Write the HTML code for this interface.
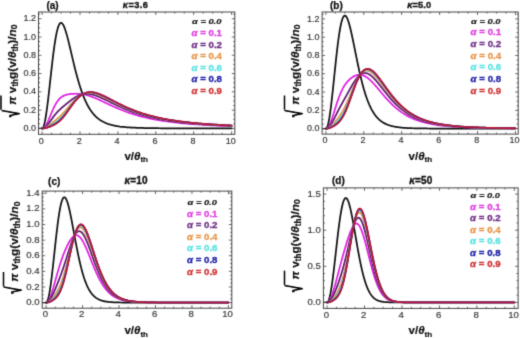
<!DOCTYPE html>
<html><head><meta charset="utf-8"><title>Distribution plots</title>
<style>html,body{margin:0;padding:0;background:#fff;}svg{display:block;}</style>
</head><body>
<svg width="520" height="338" viewBox="0 0 520 338">
<defs><filter id="soft" x="0" y="0" width="520" height="338" filterUnits="userSpaceOnUse" color-interpolation-filters="sRGB"><feConvolveMatrix order="3" kernelMatrix="0.0192 0.1001 0.0192 0.1001 0.5228 0.1001 0.0192 0.1001 0.0192" edgeMode="duplicate" preserveAlpha="true"/></filter></defs>
<g filter="url(#soft)">
<rect width="520" height="338" fill="#fff"/>
<clipPath id="ca"><rect x="38.5" y="12.0" width="196.3" height="122.30000000000001"/></clipPath>
<g clip-path="url(#ca)" fill="none" stroke-linejoin="round" stroke-linecap="round">
<polyline points="42.10,128.40 42.57,128.20 43.05,127.59 43.52,126.58 44.00,125.18 44.47,123.41 44.94,121.27 45.42,118.80 45.89,116.01 46.36,112.93 46.84,109.58 47.31,106.00 47.79,102.22 48.26,98.26 48.73,94.17 49.21,89.98 49.68,85.71 50.15,81.40 50.63,77.09 51.10,72.80 51.58,68.57 52.05,64.42 52.52,60.38 53.00,56.47 53.47,52.72 53.94,49.14 54.42,45.75 54.89,42.57 55.37,39.61 55.84,36.88 56.31,34.39 56.79,32.14 57.26,30.14 57.73,28.39 58.21,26.88 58.68,25.62 59.16,24.61 59.63,23.83 60.10,23.29 60.58,22.97 61.05,22.86 61.52,22.97 62.00,23.26 62.47,23.75 62.95,24.41 63.42,25.23 63.89,26.20 64.37,27.32 64.84,28.57 65.31,29.93 65.79,31.40 66.26,32.97 66.73,34.63 67.21,36.36 67.68,38.15 68.16,40.00 68.63,41.90 69.10,43.84 69.58,45.81 70.05,47.80 70.53,49.81 71.00,51.83 71.47,53.85 71.95,55.87 72.42,57.89 72.89,59.89 73.37,61.88 73.84,63.84 74.31,65.79 74.79,67.70 75.26,69.59 75.74,71.45 76.21,73.27 76.68,75.06 77.16,76.81 77.63,78.52 78.11,80.19 78.58,81.83 79.05,83.42 79.53,84.97 80.00,86.48 80.47,87.95 80.95,89.38 81.42,90.76 81.90,92.11 82.37,93.41 82.84,94.68 83.32,95.90 83.79,97.08 84.26,98.23 84.74,99.34 85.21,100.41 85.69,101.45 86.16,102.45 86.63,103.41 87.11,104.35 87.58,105.25 88.05,106.11 88.53,106.95 89.00,107.75 89.47,108.53 89.95,109.28 90.42,110.00 90.90,110.70 91.37,111.36 91.84,112.01 92.32,112.63 92.79,113.22 93.27,113.80 93.74,114.35 94.21,114.88 94.69,115.39 95.16,115.88 95.63,116.35 96.11,116.80 96.58,117.24 97.06,117.66 97.53,118.06 98.00,118.45 98.48,118.82 98.95,119.18 99.42,119.53 99.90,119.86 100.37,120.18 100.84,120.48 101.32,120.78 101.79,121.06 102.27,121.33 102.74,121.59 103.21,121.84 103.69,122.08 104.16,122.31 104.64,122.54 105.11,122.75 105.58,122.96 106.06,123.15 106.53,123.34 107.00,123.53 107.48,123.70 107.95,123.87 108.43,124.03 108.90,124.19 109.37,124.34 109.85,124.49 110.32,124.62 110.79,124.76 111.27,124.89 111.74,125.01 112.22,125.13 112.69,125.24 113.16,125.35 113.64,125.46 114.11,125.56 114.58,125.66 115.06,125.76 115.53,125.85 116.00,125.93 116.48,126.02 116.95,126.10 117.43,126.18 117.90,126.25 119.79,126.53 121.69,126.76 123.59,126.97 125.48,127.15 127.38,127.30 129.27,127.43 131.16,127.55 133.06,127.65 134.96,127.73 136.85,127.81 138.75,127.88 140.64,127.94 142.53,127.99 144.43,128.03 146.32,128.07 148.22,128.11 150.12,128.14 152.01,128.16 153.91,128.19 155.80,128.21 157.69,128.23 159.59,128.25 161.49,128.26 163.38,128.27 165.28,128.29 167.17,128.30 169.06,128.31 170.96,128.32 172.85,128.32 174.75,128.33 176.64,128.34 178.54,128.34 180.44,128.35 182.33,128.35 184.22,128.36 186.12,128.36 188.01,128.36 189.91,128.37 191.81,128.37 193.70,128.37 195.60,128.37 197.49,128.38 199.38,128.38 201.28,128.38 203.17,128.38 205.07,128.38 206.96,128.38 208.86,128.38 210.75,128.39 212.65,128.39 214.55,128.39 216.44,128.39 218.34,128.39 220.23,128.39 222.12,128.39 224.02,128.39 225.91,128.39 227.81,128.39 229.70,128.39 231.60,128.39" stroke="#111111" stroke-width="1.75"/>
<polyline points="42.10,128.40 42.57,128.35 43.05,128.19 43.52,127.93 44.00,127.57 44.47,127.11 44.94,126.56 45.42,125.92 45.89,125.19 46.36,124.39 46.84,123.53 47.31,122.60 47.79,121.62 48.26,120.59 48.73,119.52 49.21,118.43 49.68,117.31 50.15,116.18 50.63,115.05 51.10,113.91 51.58,112.78 52.05,111.67 52.52,110.58 53.00,109.51 53.47,108.47 53.94,107.46 54.42,106.49 54.89,105.56 55.37,104.67 55.84,103.82 56.31,103.02 56.79,102.26 57.26,101.55 57.73,100.88 58.21,100.26 58.68,99.68 59.16,99.14 59.63,98.64 60.10,98.18 60.58,97.76 61.05,97.37 61.52,97.01 62.00,96.69 62.47,96.39 62.95,96.12 63.42,95.88 63.89,95.65 64.37,95.45 64.84,95.27 65.31,95.10 65.79,94.95 66.26,94.82 66.73,94.69 67.21,94.58 67.68,94.48 68.16,94.39 68.63,94.31 69.10,94.23 69.58,94.16 70.05,94.10 70.53,94.04 71.00,93.99 71.47,93.95 71.95,93.91 72.42,93.87 72.89,93.84 73.37,93.81 73.84,93.79 74.31,93.77 74.79,93.76 75.26,93.75 75.74,93.74 76.21,93.74 76.68,93.75 77.16,93.76 77.63,93.77 78.11,93.79 78.58,93.82 79.05,93.85 79.53,93.88 80.00,93.92 80.47,93.97 80.95,94.02 81.42,94.08 81.90,94.14 82.37,94.21 82.84,94.28 83.32,94.37 83.79,94.45 84.26,94.54 84.74,94.64 85.21,94.74 85.69,94.85 86.16,94.97 86.63,95.09 87.11,95.21 87.58,95.34 88.05,95.48 88.53,95.62 89.00,95.77 89.47,95.92 89.95,96.07 90.42,96.23 90.90,96.40 91.37,96.56 91.84,96.74 92.32,96.91 92.79,97.09 93.27,97.28 93.74,97.46 94.21,97.66 94.69,97.85 95.16,98.05 95.63,98.25 96.11,98.45 96.58,98.65 97.06,98.86 97.53,99.07 98.00,99.28 98.48,99.50 98.95,99.71 99.42,99.93 99.90,100.15 100.37,100.37 100.84,100.59 101.32,100.81 101.79,101.03 102.27,101.26 102.74,101.48 103.21,101.71 103.69,101.93 104.16,102.16 104.64,102.38 105.11,102.61 105.58,102.84 106.06,103.06 106.53,103.29 107.00,103.51 107.48,103.74 107.95,103.96 108.43,104.19 108.90,104.41 109.37,104.64 109.85,104.86 110.32,105.08 110.79,105.30 111.27,105.52 111.74,105.74 112.22,105.96 112.69,106.18 113.16,106.39 113.64,106.61 114.11,106.82 114.58,107.03 115.06,107.24 115.53,107.45 116.00,107.66 116.48,107.87 116.95,108.07 117.43,108.28 117.90,108.48 119.79,109.28 121.69,110.05 123.59,110.79 125.48,111.51 127.38,112.20 129.27,112.86 131.16,113.50 133.06,114.11 134.96,114.70 136.85,115.26 138.75,115.80 140.64,116.31 142.53,116.80 144.43,117.27 146.32,117.72 148.22,118.15 150.12,118.55 152.01,118.94 153.91,119.32 155.80,119.67 157.69,120.01 159.59,120.33 161.49,120.64 163.38,120.94 165.28,121.22 167.17,121.49 169.06,121.75 170.96,121.99 172.85,122.23 174.75,122.45 176.64,122.67 178.54,122.87 180.44,123.07 182.33,123.26 184.22,123.44 186.12,123.61 188.01,123.77 189.91,123.93 191.81,124.08 193.70,124.23 195.60,124.36 197.49,124.50 199.38,124.63 201.28,124.75 203.17,124.87 205.07,124.98 206.96,125.09 208.86,125.19 210.75,125.29 212.65,125.39 214.55,125.48 216.44,125.57 218.34,125.65 220.23,125.74 222.12,125.81 224.02,125.89 225.91,125.96 227.81,126.03 229.70,126.10 231.60,126.17" stroke="#e020e0" stroke-width="1.75"/>
<polyline points="42.10,128.40 42.57,128.37 43.05,128.28 43.52,128.13 44.00,127.92 44.47,127.66 44.94,127.34 45.42,126.97 45.89,126.56 46.36,126.10 46.84,125.60 47.31,125.07 47.79,124.50 48.26,123.91 48.73,123.29 49.21,122.66 49.68,122.01 50.15,121.35 50.63,120.69 51.10,120.02 51.58,119.36 52.05,118.69 52.52,118.04 53.00,117.39 53.47,116.75 53.94,116.13 54.42,115.52 54.89,114.92 55.37,114.34 55.84,113.77 56.31,113.22 56.79,112.69 57.26,112.16 57.73,111.66 58.21,111.16 58.68,110.68 59.16,110.22 59.63,109.76 60.10,109.31 60.58,108.87 61.05,108.44 61.52,108.02 62.00,107.60 62.47,107.19 62.95,106.78 63.42,106.38 63.89,105.98 64.37,105.58 64.84,105.18 65.31,104.79 65.79,104.40 66.26,104.01 66.73,103.62 67.21,103.24 67.68,102.85 68.16,102.47 68.63,102.10 69.10,101.72 69.58,101.35 70.05,100.98 70.53,100.62 71.00,100.26 71.47,99.91 71.95,99.56 72.42,99.22 72.89,98.89 73.37,98.56 73.84,98.24 74.31,97.93 74.79,97.63 75.26,97.34 75.74,97.06 76.21,96.79 76.68,96.53 77.16,96.28 77.63,96.04 78.11,95.81 78.58,95.60 79.05,95.40 79.53,95.21 80.00,95.03 80.47,94.86 80.95,94.71 81.42,94.57 81.90,94.44 82.37,94.33 82.84,94.23 83.32,94.14 83.79,94.06 84.26,94.00 84.74,93.94 85.21,93.90 85.69,93.87 86.16,93.86 86.63,93.85 87.11,93.86 87.58,93.87 88.05,93.90 88.53,93.94 89.00,93.98 89.47,94.04 89.95,94.11 90.42,94.18 90.90,94.27 91.37,94.36 91.84,94.47 92.32,94.58 92.79,94.70 93.27,94.82 93.74,94.96 94.21,95.10 94.69,95.24 95.16,95.40 95.63,95.55 96.11,95.72 96.58,95.89 97.06,96.07 97.53,96.25 98.00,96.43 98.48,96.62 98.95,96.82 99.42,97.01 99.90,97.22 100.37,97.42 100.84,97.63 101.32,97.84 101.79,98.06 102.27,98.27 102.74,98.49 103.21,98.71 103.69,98.94 104.16,99.16 104.64,99.39 105.11,99.62 105.58,99.84 106.06,100.07 106.53,100.31 107.00,100.54 107.48,100.77 107.95,101.00 108.43,101.24 108.90,101.47 109.37,101.71 109.85,101.94 110.32,102.18 110.79,102.41 111.27,102.64 111.74,102.88 112.22,103.11 112.69,103.34 113.16,103.57 113.64,103.80 114.11,104.03 114.58,104.26 115.06,104.49 115.53,104.72 116.00,104.95 116.48,105.17 116.95,105.40 117.43,105.62 117.90,105.84 119.79,106.71 121.69,107.56 123.59,108.39 125.48,109.18 127.38,109.96 129.27,110.70 131.16,111.41 133.06,112.10 134.96,112.76 136.85,113.39 138.75,114.00 140.64,114.58 142.53,115.14 144.43,115.67 146.32,116.18 148.22,116.66 150.12,117.13 152.01,117.57 153.91,118.00 155.80,118.40 157.69,118.79 159.59,119.16 161.49,119.51 163.38,119.85 165.28,120.17 167.17,120.48 169.06,120.77 170.96,121.05 172.85,121.32 174.75,121.58 176.64,121.82 178.54,122.06 180.44,122.28 182.33,122.50 184.22,122.70 186.12,122.90 188.01,123.09 189.91,123.27 191.81,123.44 193.70,123.61 195.60,123.77 197.49,123.92 199.38,124.07 201.28,124.21 203.17,124.34 205.07,124.47 206.96,124.60 208.86,124.72 210.75,124.83 212.65,124.94 214.55,125.05 216.44,125.15 218.34,125.25 220.23,125.34 222.12,125.43 224.02,125.52 225.91,125.60 227.81,125.68 229.70,125.76 231.60,125.84" stroke="#5e1a72" stroke-width="1.75"/>
<polyline points="42.10,128.40 42.57,128.38 43.05,128.33 43.52,128.25 44.00,128.14 44.47,128.00 44.94,127.83 45.42,127.63 45.89,127.40 46.36,127.16 46.84,126.89 47.31,126.60 47.79,126.29 48.26,125.97 48.73,125.63 49.21,125.28 49.68,124.92 50.15,124.56 50.63,124.19 51.10,123.81 51.58,123.43 52.05,123.05 52.52,122.67 53.00,122.28 53.47,121.89 53.94,121.51 54.42,121.12 54.89,120.73 55.37,120.34 55.84,119.95 56.31,119.55 56.79,119.15 57.26,118.75 57.73,118.34 58.21,117.93 58.68,117.51 59.16,117.09 59.63,116.66 60.10,116.22 60.58,115.77 61.05,115.31 61.52,114.85 62.00,114.37 62.47,113.89 62.95,113.39 63.42,112.89 63.89,112.38 64.37,111.86 64.84,111.33 65.31,110.80 65.79,110.26 66.26,109.71 66.73,109.16 67.21,108.61 67.68,108.05 68.16,107.49 68.63,106.93 69.10,106.37 69.58,105.81 70.05,105.25 70.53,104.70 71.00,104.15 71.47,103.61 71.95,103.07 72.42,102.54 72.89,102.02 73.37,101.50 73.84,101.00 74.31,100.51 74.79,100.03 75.26,99.57 75.74,99.11 76.21,98.68 76.68,98.25 77.16,97.84 77.63,97.45 78.11,97.07 78.58,96.70 79.05,96.36 79.53,96.03 80.00,95.72 80.47,95.42 80.95,95.14 81.42,94.88 81.90,94.63 82.37,94.40 82.84,94.19 83.32,94.00 83.79,93.82 84.26,93.66 84.74,93.51 85.21,93.38 85.69,93.26 86.16,93.17 86.63,93.08 87.11,93.01 87.58,92.96 88.05,92.92 88.53,92.89 89.00,92.88 89.47,92.88 89.95,92.89 90.42,92.91 90.90,92.95 91.37,93.00 91.84,93.06 92.32,93.13 92.79,93.21 93.27,93.30 93.74,93.40 94.21,93.51 94.69,93.62 95.16,93.75 95.63,93.89 96.11,94.03 96.58,94.18 97.06,94.33 97.53,94.50 98.00,94.66 98.48,94.84 98.95,95.02 99.42,95.21 99.90,95.40 100.37,95.59 100.84,95.79 101.32,96.00 101.79,96.21 102.27,96.42 102.74,96.64 103.21,96.86 103.69,97.08 104.16,97.30 104.64,97.53 105.11,97.76 105.58,97.99 106.06,98.22 106.53,98.46 107.00,98.69 107.48,98.93 107.95,99.17 108.43,99.41 108.90,99.65 109.37,99.89 109.85,100.13 110.32,100.37 110.79,100.62 111.27,100.86 111.74,101.10 112.22,101.34 112.69,101.58 113.16,101.82 113.64,102.07 114.11,102.31 114.58,102.55 115.06,102.79 115.53,103.02 116.00,103.26 116.48,103.50 116.95,103.73 117.43,103.97 117.90,104.20 119.79,105.12 121.69,106.02 123.59,106.89 125.48,107.74 127.38,108.56 129.27,109.35 131.16,110.12 133.06,110.85 134.96,111.56 136.85,112.24 138.75,112.89 140.64,113.51 142.53,114.11 144.43,114.68 146.32,115.22 148.22,115.75 150.12,116.25 152.01,116.72 153.91,117.18 155.80,117.61 157.69,118.03 159.59,118.43 161.49,118.81 163.38,119.17 165.28,119.52 167.17,119.85 169.06,120.17 170.96,120.47 172.85,120.76 174.75,121.04 176.64,121.30 178.54,121.55 180.44,121.80 182.33,122.03 184.22,122.25 186.12,122.46 188.01,122.67 189.91,122.86 191.81,123.05 193.70,123.23 195.60,123.40 197.49,123.56 199.38,123.72 201.28,123.87 203.17,124.02 205.07,124.16 206.96,124.29 208.86,124.42 210.75,124.55 212.65,124.66 214.55,124.78 216.44,124.89 218.34,124.99 220.23,125.10 222.12,125.19 224.02,125.29 225.91,125.38 227.81,125.47 229.70,125.55 231.60,125.63" stroke="#e8903c" stroke-width="1.75"/>
<polyline points="42.10,128.40 42.57,128.39 43.05,128.36 43.52,128.30 44.00,128.22 44.47,128.13 44.94,128.01 45.42,127.87 45.89,127.72 46.36,127.55 46.84,127.36 47.31,127.16 47.79,126.95 48.26,126.73 48.73,126.49 49.21,126.25 49.68,126.00 50.15,125.75 50.63,125.48 51.10,125.22 51.58,124.94 52.05,124.66 52.52,124.38 53.00,124.09 53.47,123.80 53.94,123.50 54.42,123.19 54.89,122.88 55.37,122.56 55.84,122.23 56.31,121.89 56.79,121.55 57.26,121.19 57.73,120.82 58.21,120.44 58.68,120.04 59.16,119.63 59.63,119.21 60.10,118.77 60.58,118.32 61.05,117.86 61.52,117.37 62.00,116.88 62.47,116.37 62.95,115.84 63.42,115.30 63.89,114.75 64.37,114.19 64.84,113.61 65.31,113.02 65.79,112.43 66.26,111.82 66.73,111.21 67.21,110.59 67.68,109.97 68.16,109.35 68.63,108.72 69.10,108.09 69.58,107.46 70.05,106.83 70.53,106.21 71.00,105.59 71.47,104.97 71.95,104.37 72.42,103.77 72.89,103.18 73.37,102.59 73.84,102.02 74.31,101.47 74.79,100.92 75.26,100.39 75.74,99.88 76.21,99.37 76.68,98.89 77.16,98.42 77.63,97.97 78.11,97.53 78.58,97.11 79.05,96.71 79.53,96.33 80.00,95.97 80.47,95.62 80.95,95.30 81.42,94.99 81.90,94.70 82.37,94.43 82.84,94.18 83.32,93.94 83.79,93.73 84.26,93.53 84.74,93.35 85.21,93.19 85.69,93.04 86.16,92.91 86.63,92.80 87.11,92.70 87.58,92.62 88.05,92.55 88.53,92.50 89.00,92.47 89.47,92.45 89.95,92.44 90.42,92.44 90.90,92.46 91.37,92.49 91.84,92.54 92.32,92.59 92.79,92.66 93.27,92.73 93.74,92.82 94.21,92.92 94.69,93.03 95.16,93.14 95.63,93.27 96.11,93.40 96.58,93.54 97.06,93.69 97.53,93.85 98.00,94.01 98.48,94.18 98.95,94.36 99.42,94.54 99.90,94.73 100.37,94.92 100.84,95.12 101.32,95.32 101.79,95.52 102.27,95.74 102.74,95.95 103.21,96.17 103.69,96.39 104.16,96.61 104.64,96.84 105.11,97.07 105.58,97.30 106.06,97.54 106.53,97.77 107.00,98.01 107.48,98.25 107.95,98.49 108.43,98.73 108.90,98.97 109.37,99.22 109.85,99.46 110.32,99.71 110.79,99.95 111.27,100.20 111.74,100.44 112.22,100.69 112.69,100.93 113.16,101.18 113.64,101.42 114.11,101.67 114.58,101.91 115.06,102.15 115.53,102.40 116.00,102.64 116.48,102.88 116.95,103.12 117.43,103.36 117.90,103.59 119.79,104.53 121.69,105.45 123.59,106.34 125.48,107.21 127.38,108.05 129.27,108.86 131.16,109.64 133.06,110.39 134.96,111.11 136.85,111.81 138.75,112.47 140.64,113.11 142.53,113.72 144.43,114.31 146.32,114.87 148.22,115.41 150.12,115.92 152.01,116.41 153.91,116.88 155.80,117.32 157.69,117.75 159.59,118.16 161.49,118.55 163.38,118.92 165.28,119.28 167.17,119.62 169.06,119.94 170.96,120.25 172.85,120.55 174.75,120.84 176.64,121.11 178.54,121.37 180.44,121.62 182.33,121.85 184.22,122.08 186.12,122.30 188.01,122.51 189.91,122.71 191.81,122.90 193.70,123.09 195.60,123.26 197.49,123.43 199.38,123.59 201.28,123.75 203.17,123.90 205.07,124.04 206.96,124.18 208.86,124.31 210.75,124.44 212.65,124.56 214.55,124.68 216.44,124.79 218.34,124.90 220.23,125.01 222.12,125.11 224.02,125.20 225.91,125.30 227.81,125.39 229.70,125.47 231.60,125.56" stroke="#40e0e0" stroke-width="1.75"/>
<polyline points="42.10,128.40 42.57,128.39 43.05,128.37 43.52,128.32 44.00,128.27 44.47,128.19 44.94,128.10 45.42,128.00 45.89,127.88 46.36,127.75 46.84,127.61 47.31,127.46 47.79,127.30 48.26,127.12 48.73,126.95 49.21,126.76 49.68,126.56 50.15,126.36 50.63,126.16 51.10,125.95 51.58,125.73 52.05,125.50 52.52,125.27 53.00,125.03 53.47,124.79 53.94,124.53 54.42,124.27 54.89,124.00 55.37,123.72 55.84,123.42 56.31,123.11 56.79,122.79 57.26,122.46 57.73,122.11 58.21,121.74 58.68,121.36 59.16,120.96 59.63,120.54 60.10,120.10 60.58,119.65 61.05,119.18 61.52,118.69 62.00,118.18 62.47,117.66 62.95,117.12 63.42,116.56 63.89,115.99 64.37,115.40 64.84,114.80 65.31,114.18 65.79,113.56 66.26,112.92 66.73,112.28 67.21,111.63 67.68,110.97 68.16,110.31 68.63,109.65 69.10,108.98 69.58,108.32 70.05,107.65 70.53,106.99 71.00,106.34 71.47,105.69 71.95,105.04 72.42,104.41 72.89,103.78 73.37,103.16 73.84,102.56 74.31,101.96 74.79,101.39 75.26,100.82 75.74,100.27 76.21,99.74 76.68,99.22 77.16,98.72 77.63,98.24 78.11,97.77 78.58,97.33 79.05,96.90 79.53,96.49 80.00,96.10 80.47,95.73 80.95,95.38 81.42,95.05 81.90,94.74 82.37,94.44 82.84,94.17 83.32,93.92 83.79,93.68 84.26,93.46 84.74,93.27 85.21,93.09 85.69,92.92 86.16,92.78 86.63,92.65 87.11,92.54 87.58,92.44 88.05,92.37 88.53,92.30 89.00,92.26 89.47,92.22 89.95,92.20 90.42,92.20 90.90,92.21 91.37,92.23 91.84,92.27 92.32,92.31 92.79,92.37 93.27,92.44 93.74,92.52 94.21,92.61 94.69,92.71 95.16,92.83 95.63,92.95 96.11,93.07 96.58,93.21 97.06,93.36 97.53,93.51 98.00,93.67 98.48,93.84 98.95,94.01 99.42,94.19 99.90,94.38 100.37,94.57 100.84,94.76 101.32,94.96 101.79,95.17 102.27,95.38 102.74,95.59 103.21,95.81 103.69,96.03 104.16,96.26 104.64,96.48 105.11,96.71 105.58,96.94 106.06,97.18 106.53,97.42 107.00,97.65 107.48,97.89 107.95,98.14 108.43,98.38 108.90,98.62 109.37,98.87 109.85,99.11 110.32,99.36 110.79,99.61 111.27,99.85 111.74,100.10 112.22,100.35 112.69,100.59 113.16,100.84 113.64,101.09 114.11,101.33 114.58,101.58 115.06,101.82 115.53,102.07 116.00,102.31 116.48,102.56 116.95,102.80 117.43,103.04 117.90,103.28 119.79,104.23 121.69,105.15 123.59,106.05 125.48,106.93 127.38,107.78 129.27,108.60 131.16,109.39 133.06,110.15 134.96,110.88 136.85,111.59 138.75,112.26 140.64,112.91 142.53,113.53 144.43,114.12 146.32,114.69 148.22,115.23 150.12,115.75 152.01,116.24 153.91,116.72 155.80,117.17 157.69,117.60 159.59,118.02 161.49,118.41 163.38,118.79 165.28,119.15 167.17,119.50 169.06,119.83 170.96,120.14 172.85,120.44 174.75,120.73 176.64,121.01 178.54,121.27 180.44,121.52 182.33,121.76 184.22,122.00 186.12,122.22 188.01,122.43 189.91,122.63 191.81,122.83 193.70,123.01 195.60,123.19 197.49,123.36 199.38,123.53 201.28,123.68 203.17,123.84 205.07,123.98 206.96,124.12 208.86,124.26 210.75,124.38 212.65,124.51 214.55,124.63 216.44,124.74 218.34,124.85 220.23,124.96 222.12,125.06 224.02,125.16 225.91,125.25 227.81,125.34 229.70,125.43 231.60,125.52" stroke="#1c1ca8" stroke-width="1.75"/>
<polyline points="42.10,128.40 42.57,128.39 43.05,128.37 43.52,128.33 44.00,128.28 44.47,128.21 44.94,128.13 45.42,128.04 45.89,127.94 46.36,127.82 46.84,127.69 47.31,127.56 47.79,127.41 48.26,127.26 48.73,127.10 49.21,126.93 49.68,126.76 50.15,126.57 50.63,126.39 51.10,126.19 51.58,125.99 52.05,125.79 52.52,125.57 53.00,125.35 53.47,125.12 53.94,124.89 54.42,124.64 54.89,124.38 55.37,124.11 55.84,123.82 56.31,123.53 56.79,123.22 57.26,122.89 57.73,122.54 58.21,122.18 58.68,121.80 59.16,121.41 59.63,120.99 60.10,120.56 60.58,120.10 61.05,119.63 61.52,119.14 62.00,118.63 62.47,118.10 62.95,117.55 63.42,116.98 63.89,116.40 64.37,115.81 64.84,115.20 65.31,114.58 65.79,113.94 66.26,113.30 66.73,112.64 67.21,111.98 67.68,111.31 68.16,110.64 68.63,109.97 69.10,109.29 69.58,108.61 70.05,107.93 70.53,107.26 71.00,106.59 71.47,105.93 71.95,105.27 72.42,104.62 72.89,103.98 73.37,103.35 73.84,102.74 74.31,102.13 74.79,101.54 75.26,100.97 75.74,100.41 76.21,99.86 76.68,99.33 77.16,98.82 77.63,98.33 78.11,97.86 78.58,97.40 79.05,96.96 79.53,96.54 80.00,96.15 80.47,95.77 80.95,95.41 81.42,95.07 81.90,94.75 82.37,94.45 82.84,94.17 83.32,93.91 83.79,93.66 84.26,93.44 84.74,93.24 85.21,93.05 85.69,92.88 86.16,92.73 86.63,92.60 87.11,92.48 87.58,92.38 88.05,92.30 88.53,92.23 89.00,92.18 89.47,92.15 89.95,92.12 90.42,92.12 90.90,92.12 91.37,92.14 91.84,92.17 92.32,92.22 92.79,92.27 93.27,92.34 93.74,92.42 94.21,92.51 94.69,92.61 95.16,92.72 95.63,92.84 96.11,92.96 96.58,93.10 97.06,93.24 97.53,93.40 98.00,93.55 98.48,93.72 98.95,93.89 99.42,94.07 99.90,94.26 100.37,94.45 100.84,94.64 101.32,94.84 101.79,95.05 102.27,95.26 102.74,95.47 103.21,95.69 103.69,95.91 104.16,96.13 104.64,96.36 105.11,96.59 105.58,96.82 106.06,97.06 106.53,97.29 107.00,97.53 107.48,97.77 107.95,98.02 108.43,98.26 108.90,98.50 109.37,98.75 109.85,98.99 110.32,99.24 110.79,99.49 111.27,99.74 111.74,99.98 112.22,100.23 112.69,100.48 113.16,100.73 113.64,100.97 114.11,101.22 114.58,101.47 115.06,101.71 115.53,101.96 116.00,102.20 116.48,102.45 116.95,102.69 117.43,102.93 117.90,103.17 119.79,104.12 121.69,105.05 123.59,105.96 125.48,106.84 127.38,107.69 129.27,108.51 131.16,109.30 133.06,110.07 134.96,110.80 136.85,111.51 138.75,112.19 140.64,112.84 142.53,113.46 144.43,114.05 146.32,114.62 148.22,115.17 150.12,115.69 152.01,116.19 153.91,116.66 155.80,117.12 157.69,117.55 159.59,117.97 161.49,118.37 163.38,118.75 165.28,119.11 167.17,119.46 169.06,119.79 170.96,120.10 172.85,120.41 174.75,120.70 176.64,120.97 178.54,121.24 180.44,121.49 182.33,121.73 184.22,121.97 186.12,122.19 188.01,122.40 189.91,122.60 191.81,122.80 193.70,122.99 195.60,123.17 197.49,123.34 199.38,123.50 201.28,123.66 203.17,123.82 205.07,123.96 206.96,124.10 208.86,124.24 210.75,124.37 212.65,124.49 214.55,124.61 216.44,124.73 218.34,124.84 220.23,124.94 222.12,125.04 224.02,125.14 225.91,125.24 227.81,125.33 229.70,125.42 231.60,125.50" stroke="#bc1636" stroke-width="1.75"/>
<line x1="38.5" y1="128.40" x2="42.10" y2="128.40" stroke="#222" stroke-width="1.2"/>
</g>
<rect x="38.5" y="12.0" width="196.3" height="122.30000000000001" fill="none" stroke="#444" stroke-width="1"/>
<path d="M42.10,134.3v-3.0M42.10,12.0v3.0M51.58,134.3v-1.6M51.58,12.0v1.6M61.05,134.3v-1.6M61.05,12.0v1.6M70.53,134.3v-1.6M70.53,12.0v1.6M80.00,134.3v-3.0M80.00,12.0v3.0M89.47,134.3v-1.6M89.47,12.0v1.6M98.95,134.3v-1.6M98.95,12.0v1.6M108.43,134.3v-1.6M108.43,12.0v1.6M117.90,134.3v-3.0M117.90,12.0v3.0M127.38,134.3v-1.6M127.38,12.0v1.6M136.85,134.3v-1.6M136.85,12.0v1.6M146.32,134.3v-1.6M146.32,12.0v1.6M155.80,134.3v-3.0M155.80,12.0v3.0M165.28,134.3v-1.6M165.28,12.0v1.6M174.75,134.3v-1.6M174.75,12.0v1.6M184.22,134.3v-1.6M184.22,12.0v1.6M193.70,134.3v-3.0M193.70,12.0v3.0M203.17,134.3v-1.6M203.17,12.0v1.6M212.65,134.3v-1.6M212.65,12.0v1.6M222.12,134.3v-1.6M222.12,12.0v1.6M231.60,134.3v-3.0M231.60,12.0v3.0M38.5,128.40h3.0M234.8,128.40h-3.0M38.5,123.83h1.6M234.8,123.83h-1.6M38.5,119.26h1.6M234.8,119.26h-1.6M38.5,114.69h1.6M234.8,114.69h-1.6M38.5,110.12h3.0M234.8,110.12h-3.0M38.5,105.55h1.6M234.8,105.55h-1.6M38.5,100.98h1.6M234.8,100.98h-1.6M38.5,96.41h1.6M234.8,96.41h-1.6M38.5,91.84h3.0M234.8,91.84h-3.0M38.5,87.27h1.6M234.8,87.27h-1.6M38.5,82.70h1.6M234.8,82.70h-1.6M38.5,78.13h1.6M234.8,78.13h-1.6M38.5,73.56h3.0M234.8,73.56h-3.0M38.5,68.99h1.6M234.8,68.99h-1.6M38.5,64.42h1.6M234.8,64.42h-1.6M38.5,59.85h1.6M234.8,59.85h-1.6M38.5,55.28h3.0M234.8,55.28h-3.0M38.5,50.71h1.6M234.8,50.71h-1.6M38.5,46.14h1.6M234.8,46.14h-1.6M38.5,41.57h1.6M234.8,41.57h-1.6M38.5,37.00h3.0M234.8,37.00h-3.0M38.5,32.43h1.6M234.8,32.43h-1.6M38.5,27.86h1.6M234.8,27.86h-1.6M38.5,23.29h1.6M234.8,23.29h-1.6M38.5,18.72h3.0M234.8,18.72h-3.0M38.5,14.15h1.6M234.8,14.15h-1.6" stroke="#444" stroke-width="0.8" fill="none"/>
<g font-family="'Liberation Sans', Arial, sans-serif" font-size="9.0" fill="#3a3a3a" stroke="#3a3a3a" stroke-width="0.2"><text x="41.30" y="143.50" text-anchor="middle">0</text><text x="79.20" y="143.50" text-anchor="middle">2</text><text x="117.10" y="143.50" text-anchor="middle">4</text><text x="155.00" y="143.50" text-anchor="middle">6</text><text x="192.90" y="143.50" text-anchor="middle">8</text><text x="230.80" y="143.50" text-anchor="middle">10</text><text x="35.90" y="131.00" text-anchor="end">0.0</text><text x="35.90" y="112.72" text-anchor="end">0.2</text><text x="35.90" y="94.44" text-anchor="end">0.4</text><text x="35.90" y="76.16" text-anchor="end">0.6</text><text x="35.90" y="57.88" text-anchor="end">0.8</text><text x="35.90" y="39.60" text-anchor="end">1.0</text><text x="35.90" y="21.32" text-anchor="end">1.2</text></g>
<text x="46.4" y="8.9" font-family="'Liberation Sans', Arial, sans-serif" font-weight="bold" font-size="10" fill="#111" stroke="#111" stroke-width="0.25">(a)</text>
<text x="122.8" y="8.1" font-family="'Liberation Sans', Arial, sans-serif" font-weight="bold" font-size="9.2" fill="#111" stroke="#111" stroke-width="0.35" letter-spacing="0.4"><tspan font-style="italic">κ</tspan>=3.6</text>
<text x="192.0" y="24.40" font-family="'Liberation Sans', Arial, sans-serif" font-weight="bold" font-style="italic" font-size="7.9" fill="#151515" stroke="#151515" stroke-width="0.2" textLength="29.4" lengthAdjust="spacingAndGlyphs">α = 0.0</text>
<text x="191.5" y="36.00" font-family="'Liberation Sans', Arial, sans-serif" font-weight="bold" font-size="8.8" fill="#e040e0" stroke="#e040e0" stroke-width="0.3" textLength="30.5" lengthAdjust="spacingAndGlyphs"><tspan font-style="italic">α</tspan> = 0.1</text>
<text x="191.5" y="47.60" font-family="'Liberation Sans', Arial, sans-serif" font-weight="bold" font-size="8.8" fill="#703088" stroke="#703088" stroke-width="0.3" textLength="30.5" lengthAdjust="spacingAndGlyphs"><tspan font-style="italic">α</tspan> = 0.2</text>
<text x="191.5" y="59.20" font-family="'Liberation Sans', Arial, sans-serif" font-weight="bold" font-size="8.8" fill="#e8964a" stroke="#e8964a" stroke-width="0.3" textLength="30.5" lengthAdjust="spacingAndGlyphs"><tspan font-style="italic">α</tspan> = 0.4</text>
<text x="191.5" y="70.80" font-family="'Liberation Sans', Arial, sans-serif" font-weight="bold" font-size="8.8" fill="#5ae2e2" stroke="#5ae2e2" stroke-width="0.3" textLength="30.5" lengthAdjust="spacingAndGlyphs"><tspan font-style="italic">α</tspan> = 0.6</text>
<text x="191.5" y="82.40" font-family="'Liberation Sans', Arial, sans-serif" font-weight="bold" font-size="8.8" fill="#2424aa" stroke="#2424aa" stroke-width="0.3" textLength="30.5" lengthAdjust="spacingAndGlyphs"><tspan font-style="italic">α</tspan> = 0.8</text>
<text x="191.5" y="94.00" font-family="'Liberation Sans', Arial, sans-serif" font-weight="bold" font-size="8.8" fill="#d03434" stroke="#d03434" stroke-width="0.3" textLength="30.5" lengthAdjust="spacingAndGlyphs"><tspan font-style="italic">α</tspan> = 0.9</text>
<text x="124.4" y="159.8" font-family="'Liberation Sans', Arial, sans-serif" font-weight="bold" font-size="11.5" fill="#111" stroke="#111" stroke-width="0.2">v/<tspan font-style="italic">θ</tspan><tspan font-size="8" dy="2.6">th</tspan></text>
<g transform="translate(15.7,104.8) rotate(-90)"><text x="0" y="0" font-family="'Liberation Sans', Arial, sans-serif" font-weight="bold" font-size="11.75" fill="#111" stroke="#111" stroke-width="0.2"><tspan font-style="italic">π</tspan> v<tspan font-size="8.2" dy="2.0">th</tspan><tspan dy="-2.0">g(v/</tspan><tspan font-style="italic">θ</tspan><tspan font-size="8.2" dy="2.0">th</tspan><tspan dy="-2.0">)/</tspan><tspan font-style="italic">n</tspan><tspan font-size="8.6" dy="1.6">0</tspan></text></g>
<g transform="translate(18.6,113.6) rotate(-90) scale(0.65,1.08)"><text x="-5.6000000000000005" y="0" font-family="'Liberation Sans', Arial, sans-serif" font-size="20" fill="#000" stroke="#000" stroke-width="1.1">√</text></g>
<line x1="1.0" y1="95.5" x2="1.0" y2="109.8" stroke="#000" stroke-width="1.5"/>
<clipPath id="cb"><rect x="322.1" y="12.0" width="196.10000000000002" height="122.1"/></clipPath>
<g clip-path="url(#cb)" fill="none" stroke-linejoin="round" stroke-linecap="round">
<polyline points="325.90,128.60 326.37,128.39 326.85,127.76 327.32,126.72 327.79,125.27 328.27,123.43 328.74,121.21 329.22,118.64 329.69,115.74 330.16,112.52 330.64,109.03 331.11,105.28 331.58,101.32 332.06,97.17 332.53,92.86 333.01,88.43 333.48,83.92 333.95,79.35 334.43,74.77 334.90,70.19 335.38,65.66 335.85,61.21 336.32,56.86 336.80,52.64 337.27,48.58 337.74,44.69 338.22,40.99 338.69,37.51 339.16,34.27 339.64,31.26 340.11,28.51 340.59,26.01 341.06,23.79 341.53,21.83 342.01,20.15 342.48,18.74 342.95,17.60 343.43,16.72 343.90,16.10 344.38,15.74 344.85,15.62 345.32,15.74 345.80,16.08 346.27,16.63 346.75,17.39 347.22,18.34 347.69,19.46 348.17,20.75 348.64,22.20 349.11,23.78 349.59,25.49 350.06,27.31 350.53,29.23 351.01,31.25 351.48,33.34 351.96,35.50 352.43,37.71 352.90,39.97 353.38,42.27 353.85,44.59 354.32,46.93 354.80,49.28 355.27,51.63 355.75,53.98 356.22,56.32 356.69,58.64 357.17,60.94 357.64,63.21 358.12,65.45 358.59,67.66 359.06,69.83 359.54,71.96 360.01,74.04 360.48,76.07 360.96,78.06 361.43,80.00 361.90,81.89 362.38,83.73 362.85,85.51 363.33,87.25 363.80,88.93 364.27,90.55 364.75,92.13 365.22,93.65 365.69,95.12 366.17,96.54 366.64,97.91 367.12,99.22 367.59,100.50 368.06,101.72 368.54,102.89 369.01,104.02 369.48,105.11 369.96,106.15 370.43,107.15 370.91,108.12 371.38,109.04 371.85,109.92 372.33,110.76 372.80,111.57 373.27,112.35 373.75,113.09 374.22,113.80 374.70,114.48 375.17,115.13 375.64,115.75 376.12,116.34 376.59,116.91 377.06,117.45 377.54,117.97 378.01,118.46 378.49,118.93 378.96,119.38 379.43,119.81 379.91,120.22 380.38,120.61 380.85,120.98 381.33,121.33 381.80,121.67 382.28,121.99 382.75,122.30 383.22,122.59 383.70,122.87 384.17,123.14 384.64,123.39 385.12,123.63 385.59,123.86 386.07,124.08 386.54,124.29 387.01,124.49 387.49,124.68 387.96,124.86 388.44,125.03 388.91,125.20 389.38,125.35 389.86,125.50 390.33,125.65 390.80,125.78 391.28,125.91 391.75,126.03 392.22,126.15 392.70,126.26 393.17,126.37 393.65,126.47 394.12,126.56 394.59,126.66 395.07,126.74 395.54,126.83 396.01,126.91 396.49,126.98 396.96,127.06 397.44,127.12 397.91,127.19 398.38,127.25 398.86,127.31 399.33,127.37 399.80,127.42 400.28,127.48 400.75,127.52 401.23,127.57 401.70,127.62 403.59,127.78 405.49,127.91 407.38,128.02 409.28,128.11 411.17,128.19 413.07,128.25 414.96,128.31 416.86,128.35 418.75,128.39 420.65,128.42 422.54,128.45 424.44,128.47 426.33,128.49 428.23,128.50 430.12,128.52 432.02,128.53 433.91,128.54 435.81,128.55 437.70,128.55 439.60,128.56 441.49,128.57 443.39,128.57 445.28,128.57 447.18,128.58 449.07,128.58 450.97,128.58 452.87,128.58 454.76,128.59 456.65,128.59 458.55,128.59 460.44,128.59 462.34,128.59 464.24,128.59 466.13,128.59 468.02,128.59 469.92,128.60 471.81,128.60 473.71,128.60 475.61,128.60 477.50,128.60 479.39,128.60 481.29,128.60 483.18,128.60 485.08,128.60 486.97,128.60 488.87,128.60 490.76,128.60 492.66,128.60 494.55,128.60 496.45,128.60 498.35,128.60 500.24,128.60 502.13,128.60 504.03,128.60 505.92,128.60 507.82,128.60 509.71,128.60 511.61,128.60 513.50,128.60 515.40,128.60" stroke="#111111" stroke-width="1.75"/>
<polyline points="325.90,128.60 326.37,128.53 326.85,128.33 327.32,127.99 327.79,127.52 328.27,126.93 328.74,126.22 329.22,125.39 329.69,124.45 330.16,123.41 330.64,122.28 331.11,121.07 331.58,119.79 332.06,118.44 332.53,117.04 333.01,115.59 333.48,114.11 333.95,112.61 334.43,111.09 334.90,109.57 335.38,108.05 335.85,106.54 336.32,105.04 336.80,103.57 337.27,102.13 337.74,100.72 338.22,99.35 338.69,98.02 339.16,96.74 339.64,95.50 340.11,94.31 340.59,93.17 341.06,92.08 341.53,91.03 342.01,90.04 342.48,89.09 342.95,88.19 343.43,87.33 343.90,86.52 344.38,85.74 344.85,85.01 345.32,84.32 345.80,83.65 346.27,83.03 346.75,82.43 347.22,81.86 347.69,81.33 348.17,80.81 348.64,80.33 349.11,79.86 349.59,79.42 350.06,79.00 350.53,78.60 351.01,78.22 351.48,77.87 351.96,77.53 352.43,77.21 352.90,76.90 353.38,76.62 353.85,76.36 354.32,76.11 354.80,75.89 355.27,75.68 355.75,75.50 356.22,75.33 356.69,75.19 357.17,75.07 357.64,74.97 358.12,74.89 358.59,74.83 359.06,74.79 359.54,74.78 360.01,74.79 360.48,74.82 360.96,74.87 361.43,74.95 361.90,75.05 362.38,75.17 362.85,75.31 363.33,75.48 363.80,75.67 364.27,75.88 364.75,76.11 365.22,76.36 365.69,76.63 366.17,76.92 366.64,77.23 367.12,77.56 367.59,77.91 368.06,78.27 368.54,78.65 369.01,79.05 369.48,79.46 369.96,79.89 370.43,80.33 370.91,80.78 371.38,81.25 371.85,81.73 372.33,82.22 372.80,82.71 373.27,83.22 373.75,83.74 374.22,84.26 374.70,84.79 375.17,85.33 375.64,85.88 376.12,86.42 376.59,86.98 377.06,87.53 377.54,88.09 378.01,88.66 378.49,89.22 378.96,89.79 379.43,90.35 379.91,90.92 380.38,91.49 380.85,92.05 381.33,92.62 381.80,93.18 382.28,93.74 382.75,94.30 383.22,94.86 383.70,95.41 384.17,95.96 384.64,96.51 385.12,97.05 385.59,97.59 386.07,98.12 386.54,98.65 387.01,99.17 387.49,99.69 387.96,100.20 388.44,100.71 388.91,101.21 389.38,101.71 389.86,102.20 390.33,102.68 390.80,103.16 391.28,103.63 391.75,104.10 392.22,104.56 392.70,105.01 393.17,105.45 393.65,105.89 394.12,106.33 394.59,106.75 395.07,107.17 395.54,107.59 396.01,107.99 396.49,108.39 396.96,108.79 397.44,109.17 397.91,109.55 398.38,109.93 398.86,110.29 399.33,110.66 399.80,111.01 400.28,111.36 400.75,111.70 401.23,112.04 401.70,112.37 403.59,113.63 405.49,114.79 407.38,115.87 409.28,116.87 411.17,117.79 413.07,118.64 414.96,119.42 416.86,120.13 418.75,120.79 420.65,121.40 422.54,121.96 424.44,122.47 426.33,122.94 428.23,123.37 430.12,123.76 432.02,124.13 433.91,124.46 435.81,124.77 437.70,125.05 439.60,125.31 441.49,125.55 443.39,125.77 445.28,125.98 447.18,126.16 449.07,126.33 450.97,126.49 452.87,126.64 454.76,126.78 456.65,126.90 458.55,127.02 460.44,127.12 462.34,127.22 464.24,127.31 466.13,127.40 468.02,127.47 469.92,127.55 471.81,127.61 473.71,127.68 475.61,127.74 477.50,127.79 479.39,127.84 481.29,127.89 483.18,127.93 485.08,127.97 486.97,128.01 488.87,128.04 490.76,128.08 492.66,128.11 494.55,128.14 496.45,128.16 498.35,128.19 500.24,128.21 502.13,128.23 504.03,128.25 505.92,128.27 507.82,128.29 509.71,128.31 511.61,128.32 513.50,128.34 515.40,128.35" stroke="#e020e0" stroke-width="1.75"/>
<polyline points="325.90,128.60 326.37,128.56 326.85,128.44 327.32,128.24 327.79,127.96 328.27,127.61 328.74,127.18 329.22,126.68 329.69,126.12 330.16,125.51 330.64,124.83 331.11,124.11 331.58,123.34 332.06,122.53 332.53,121.69 333.01,120.82 333.48,119.92 333.95,119.01 334.43,118.08 334.90,117.14 335.38,116.20 335.85,115.25 336.32,114.31 336.80,113.37 337.27,112.43 337.74,111.50 338.22,110.57 338.69,109.66 339.16,108.75 339.64,107.85 340.11,106.96 340.59,106.08 341.06,105.21 341.53,104.34 342.01,103.48 342.48,102.62 342.95,101.76 343.43,100.91 343.90,100.06 344.38,99.21 344.85,98.36 345.32,97.50 345.80,96.65 346.27,95.80 346.75,94.94 347.22,94.08 347.69,93.22 348.17,92.36 348.64,91.51 349.11,90.65 349.59,89.79 350.06,88.94 350.53,88.10 351.01,87.26 351.48,86.43 351.96,85.61 352.43,84.80 352.90,84.01 353.38,83.23 353.85,82.47 354.32,81.73 354.80,81.01 355.27,80.31 355.75,79.64 356.22,78.99 356.69,78.37 357.17,77.78 357.64,77.23 358.12,76.70 358.59,76.20 359.06,75.74 359.54,75.32 360.01,74.93 360.48,74.57 360.96,74.26 361.43,73.98 361.90,73.73 362.38,73.52 362.85,73.35 363.33,73.22 363.80,73.12 364.27,73.05 364.75,73.03 365.22,73.03 365.69,73.07 366.17,73.15 366.64,73.26 367.12,73.39 367.59,73.56 368.06,73.76 368.54,73.99 369.01,74.25 369.48,74.53 369.96,74.84 370.43,75.17 370.91,75.53 371.38,75.91 371.85,76.31 372.33,76.73 372.80,77.16 373.27,77.62 373.75,78.09 374.22,78.58 374.70,79.09 375.17,79.60 375.64,80.13 376.12,80.67 376.59,81.22 377.06,81.78 377.54,82.35 378.01,82.92 378.49,83.51 378.96,84.09 379.43,84.69 379.91,85.29 380.38,85.89 380.85,86.49 381.33,87.09 381.80,87.70 382.28,88.31 382.75,88.92 383.22,89.52 383.70,90.13 384.17,90.73 384.64,91.34 385.12,91.94 385.59,92.53 386.07,93.13 386.54,93.72 387.01,94.30 387.49,94.88 387.96,95.46 388.44,96.03 388.91,96.60 389.38,97.16 389.86,97.72 390.33,98.27 390.80,98.81 391.28,99.35 391.75,99.88 392.22,100.40 392.70,100.92 393.17,101.43 393.65,101.94 394.12,102.44 394.59,102.93 395.07,103.41 395.54,103.89 396.01,104.36 396.49,104.82 396.96,105.27 397.44,105.72 397.91,106.16 398.38,106.60 398.86,107.02 399.33,107.44 399.80,107.85 400.28,108.26 400.75,108.66 401.23,109.05 401.70,109.43 403.59,110.90 405.49,112.27 407.38,113.54 409.28,114.71 411.17,115.79 413.07,116.79 414.96,117.71 416.86,118.55 418.75,119.33 420.65,120.05 422.54,120.71 424.44,121.31 426.33,121.87 428.23,122.38 430.12,122.85 432.02,123.28 433.91,123.68 435.81,124.04 437.70,124.38 439.60,124.69 441.49,124.97 443.39,125.24 445.28,125.48 447.18,125.70 449.07,125.90 450.97,126.09 452.87,126.27 454.76,126.43 456.65,126.58 458.55,126.71 460.44,126.84 462.34,126.96 464.24,127.07 466.13,127.17 468.02,127.26 469.92,127.35 471.81,127.43 473.71,127.50 475.61,127.57 477.50,127.63 479.39,127.69 481.29,127.75 483.18,127.80 485.08,127.85 486.97,127.89 488.87,127.94 490.76,127.98 492.66,128.01 494.55,128.05 496.45,128.08 498.35,128.11 500.24,128.14 502.13,128.16 504.03,128.19 505.92,128.21 507.82,128.23 509.71,128.25 511.61,128.27 513.50,128.29 515.40,128.30" stroke="#5e1a72" stroke-width="1.75"/>
<polyline points="325.90,128.60 326.37,128.58 326.85,128.51 327.32,128.40 327.79,128.25 328.27,128.05 328.74,127.81 329.22,127.54 329.69,127.23 330.16,126.89 330.64,126.51 331.11,126.11 331.58,125.68 332.06,125.23 332.53,124.75 333.01,124.26 333.48,123.75 333.95,123.23 334.43,122.69 334.90,122.14 335.38,121.58 335.85,121.00 336.32,120.42 336.80,119.83 337.27,119.22 337.74,118.61 338.22,117.98 338.69,117.33 339.16,116.68 339.64,116.00 340.11,115.31 340.59,114.60 341.06,113.87 341.53,113.12 342.01,112.34 342.48,111.54 342.95,110.72 343.43,109.87 343.90,108.99 344.38,108.09 344.85,107.16 345.32,106.20 345.80,105.22 346.27,104.22 346.75,103.19 347.22,102.14 347.69,101.07 348.17,99.98 348.64,98.88 349.11,97.76 349.59,96.63 350.06,95.50 350.53,94.36 351.01,93.22 351.48,92.08 351.96,90.94 352.43,89.81 352.90,88.69 353.38,87.59 353.85,86.50 354.32,85.43 354.80,84.38 355.27,83.36 355.75,82.37 356.22,81.40 356.69,80.47 357.17,79.58 357.64,78.72 358.12,77.90 358.59,77.11 359.06,76.37 359.54,75.68 360.01,75.02 360.48,74.42 360.96,73.85 361.43,73.33 361.90,72.86 362.38,72.44 362.85,72.06 363.33,71.72 363.80,71.43 364.27,71.19 364.75,70.99 365.22,70.84 365.69,70.73 366.17,70.66 366.64,70.63 367.12,70.65 367.59,70.70 368.06,70.79 368.54,70.92 369.01,71.08 369.48,71.28 369.96,71.51 370.43,71.77 370.91,72.06 371.38,72.38 371.85,72.73 372.33,73.11 372.80,73.50 373.27,73.93 373.75,74.37 374.22,74.84 374.70,75.32 375.17,75.82 375.64,76.34 376.12,76.88 376.59,77.42 377.06,77.99 377.54,78.56 378.01,79.14 378.49,79.74 378.96,80.34 379.43,80.95 379.91,81.57 380.38,82.19 380.85,82.82 381.33,83.45 381.80,84.09 382.28,84.73 382.75,85.36 383.22,86.00 383.70,86.65 384.17,87.29 384.64,87.93 385.12,88.56 385.59,89.20 386.07,89.83 386.54,90.46 387.01,91.09 387.49,91.71 387.96,92.33 388.44,92.95 388.91,93.56 389.38,94.16 389.86,94.76 390.33,95.35 390.80,95.94 391.28,96.52 391.75,97.10 392.22,97.67 392.70,98.23 393.17,98.78 393.65,99.33 394.12,99.87 394.59,100.40 395.07,100.93 395.54,101.45 396.01,101.96 396.49,102.46 396.96,102.96 397.44,103.44 397.91,103.92 398.38,104.40 398.86,104.86 399.33,105.32 399.80,105.77 400.28,106.21 400.75,106.65 401.23,107.08 401.70,107.50 403.59,109.11 405.49,110.61 407.38,112.00 409.28,113.28 411.17,114.47 413.07,115.57 414.96,116.58 416.86,117.51 418.75,118.37 420.65,119.16 422.54,119.88 424.44,120.55 426.33,121.17 428.23,121.73 430.12,122.25 432.02,122.72 433.91,123.16 435.81,123.57 437.70,123.94 439.60,124.28 441.49,124.59 443.39,124.88 445.28,125.15 447.18,125.39 449.07,125.62 450.97,125.83 452.87,126.02 454.76,126.20 456.65,126.36 458.55,126.51 460.44,126.65 462.34,126.78 464.24,126.90 466.13,127.01 468.02,127.12 469.92,127.21 471.81,127.30 473.71,127.38 475.61,127.46 477.50,127.53 479.39,127.60 481.29,127.66 483.18,127.72 485.08,127.77 486.97,127.82 488.87,127.87 490.76,127.91 492.66,127.95 494.55,127.99 496.45,128.02 498.35,128.06 500.24,128.09 502.13,128.11 504.03,128.14 505.92,128.17 507.82,128.19 509.71,128.21 511.61,128.23 513.50,128.25 515.40,128.27" stroke="#e8903c" stroke-width="1.75"/>
<polyline points="325.90,128.60 326.37,128.58 326.85,128.54 327.32,128.46 327.79,128.35 328.27,128.22 328.74,128.06 329.22,127.87 329.69,127.65 330.16,127.41 330.64,127.15 331.11,126.87 331.58,126.58 332.06,126.26 332.53,125.93 333.01,125.58 333.48,125.22 333.95,124.84 334.43,124.45 334.90,124.05 335.38,123.63 335.85,123.20 336.32,122.76 336.80,122.30 337.27,121.82 337.74,121.32 338.22,120.81 338.69,120.27 339.16,119.71 339.64,119.12 340.11,118.50 340.59,117.86 341.06,117.18 341.53,116.47 342.01,115.73 342.48,114.95 342.95,114.14 343.43,113.29 343.90,112.40 344.38,111.48 344.85,110.52 345.32,109.53 345.80,108.50 346.27,107.44 346.75,106.34 347.22,105.22 347.69,104.07 348.17,102.89 348.64,101.70 349.11,100.48 349.59,99.25 350.06,98.01 350.53,96.75 351.01,95.50 351.48,94.24 351.96,92.98 352.43,91.73 352.90,90.48 353.38,89.25 353.85,88.04 354.32,86.84 354.80,85.67 355.27,84.53 355.75,83.41 356.22,82.32 356.69,81.27 357.17,80.26 357.64,79.29 358.12,78.35 358.59,77.46 359.06,76.62 359.54,75.81 360.01,75.06 360.48,74.35 360.96,73.70 361.43,73.09 361.90,72.53 362.38,72.02 362.85,71.56 363.33,71.15 363.80,70.79 364.27,70.48 364.75,70.22 365.22,70.00 365.69,69.83 366.17,69.71 366.64,69.63 367.12,69.60 367.59,69.60 368.06,69.65 368.54,69.74 369.01,69.87 369.48,70.03 369.96,70.23 370.43,70.47 370.91,70.74 371.38,71.03 371.85,71.36 372.33,71.72 372.80,72.10 373.27,72.51 373.75,72.95 374.22,73.40 374.70,73.88 375.17,74.38 375.64,74.89 376.12,75.42 376.59,75.97 377.06,76.54 377.54,77.11 378.01,77.70 378.49,78.30 378.96,78.91 379.43,79.52 379.91,80.15 380.38,80.78 380.85,81.42 381.33,82.06 381.80,82.71 382.28,83.35 382.75,84.01 383.22,84.66 383.70,85.31 384.17,85.97 384.64,86.62 385.12,87.27 385.59,87.93 386.07,88.57 386.54,89.22 387.01,89.86 387.49,90.50 387.96,91.14 388.44,91.77 388.91,92.39 389.38,93.02 389.86,93.63 390.33,94.24 390.80,94.84 391.28,95.44 391.75,96.03 392.22,96.62 392.70,97.20 393.17,97.77 393.65,98.33 394.12,98.89 394.59,99.44 395.07,99.98 395.54,100.51 396.01,101.04 396.49,101.56 396.96,102.07 397.44,102.57 397.91,103.07 398.38,103.56 398.86,104.04 399.33,104.51 399.80,104.98 400.28,105.43 400.75,105.88 401.23,106.32 401.70,106.76 403.59,108.42 405.49,109.97 407.38,111.41 409.28,112.74 411.17,113.97 413.07,115.10 414.96,116.15 416.86,117.11 418.75,118.00 420.65,118.82 422.54,119.57 424.44,120.26 426.33,120.90 428.23,121.48 430.12,122.02 432.02,122.51 433.91,122.97 435.81,123.38 437.70,123.77 439.60,124.12 441.49,124.45 443.39,124.74 445.28,125.02 447.18,125.27 449.07,125.51 450.97,125.73 452.87,125.92 454.76,126.11 456.65,126.28 458.55,126.44 460.44,126.58 462.34,126.72 464.24,126.84 466.13,126.96 468.02,127.06 469.92,127.16 471.81,127.25 473.71,127.34 475.61,127.42 477.50,127.49 479.39,127.56 481.29,127.62 483.18,127.68 485.08,127.74 486.97,127.79 488.87,127.84 490.76,127.88 492.66,127.93 494.55,127.96 496.45,128.00 498.35,128.04 500.24,128.07 502.13,128.10 504.03,128.13 505.92,128.15 507.82,128.18 509.71,128.20 511.61,128.22 513.50,128.24 515.40,128.26" stroke="#40e0e0" stroke-width="1.75"/>
<polyline points="325.90,128.60 326.37,128.59 326.85,128.55 327.32,128.49 327.79,128.41 328.27,128.31 328.74,128.18 329.22,128.04 329.69,127.88 330.16,127.69 330.64,127.49 331.11,127.28 331.58,127.05 332.06,126.80 332.53,126.54 333.01,126.27 333.48,125.99 333.95,125.69 334.43,125.38 334.90,125.06 335.38,124.72 335.85,124.36 336.32,123.99 336.80,123.60 337.27,123.19 337.74,122.76 338.22,122.30 338.69,121.82 339.16,121.31 339.64,120.76 340.11,120.19 340.59,119.58 341.06,118.93 341.53,118.24 342.01,117.52 342.48,116.76 342.95,115.95 343.43,115.10 343.90,114.21 344.38,113.28 344.85,112.30 345.32,111.29 345.80,110.23 346.27,109.14 346.75,108.01 347.22,106.85 347.69,105.65 348.17,104.43 348.64,103.19 349.11,101.92 349.59,100.63 350.06,99.33 350.53,98.02 351.01,96.70 351.48,95.38 351.96,94.05 352.43,92.74 352.90,91.43 353.38,90.13 353.85,88.85 354.32,87.59 354.80,86.35 355.27,85.14 355.75,83.96 356.22,82.81 356.69,81.70 357.17,80.62 357.64,79.59 358.12,78.59 358.59,77.65 359.06,76.74 359.54,75.89 360.01,75.08 360.48,74.32 360.96,73.62 361.43,72.96 361.90,72.35 362.38,71.80 362.85,71.30 363.33,70.85 363.80,70.45 364.27,70.10 364.75,69.81 365.22,69.56 365.69,69.36 366.17,69.21 366.64,69.10 367.12,69.04 367.59,69.02 368.06,69.05 368.54,69.12 369.01,69.23 369.48,69.38 369.96,69.56 370.43,69.78 370.91,70.04 371.38,70.32 371.85,70.64 372.33,70.99 372.80,71.37 373.27,71.77 373.75,72.20 374.22,72.65 374.70,73.12 375.17,73.61 375.64,74.13 376.12,74.66 376.59,75.21 377.06,75.77 377.54,76.35 378.01,76.94 378.49,77.54 378.96,78.15 379.43,78.77 379.91,79.40 380.38,80.03 380.85,80.68 381.33,81.32 381.80,81.98 382.28,82.63 382.75,83.29 383.22,83.95 383.70,84.61 384.17,85.27 384.64,85.93 385.12,86.59 385.59,87.25 386.07,87.91 386.54,88.56 387.01,89.21 387.49,89.86 387.96,90.51 388.44,91.15 388.91,91.78 389.38,92.41 389.86,93.03 390.33,93.65 390.80,94.27 391.28,94.87 391.75,95.47 392.22,96.07 392.70,96.65 393.17,97.23 393.65,97.80 394.12,98.37 394.59,98.93 395.07,99.48 395.54,100.02 396.01,100.55 396.49,101.08 396.96,101.60 397.44,102.11 397.91,102.62 398.38,103.11 398.86,103.60 399.33,104.08 399.80,104.56 400.28,105.02 400.75,105.48 401.23,105.93 401.70,106.37 403.59,108.06 405.49,109.63 407.38,111.10 409.28,112.45 411.17,113.70 413.07,114.85 414.96,115.92 416.86,116.90 418.75,117.81 420.65,118.64 422.54,119.40 424.44,120.11 426.33,120.75 428.23,121.35 430.12,121.90 432.02,122.40 433.91,122.86 435.81,123.29 437.70,123.68 439.60,124.04 441.49,124.37 443.39,124.67 445.28,124.95 447.18,125.21 449.07,125.45 450.97,125.67 452.87,125.88 454.76,126.06 456.65,126.24 458.55,126.40 460.44,126.54 462.34,126.68 464.24,126.81 466.13,126.93 468.02,127.03 469.92,127.14 471.81,127.23 473.71,127.32 475.61,127.40 477.50,127.47 479.39,127.54 481.29,127.61 483.18,127.67 485.08,127.72 486.97,127.78 488.87,127.82 490.76,127.87 492.66,127.91 494.55,127.95 496.45,127.99 498.35,128.02 500.24,128.06 502.13,128.09 504.03,128.12 505.92,128.14 507.82,128.17 509.71,128.19 511.61,128.21 513.50,128.23 515.40,128.25" stroke="#1c1ca8" stroke-width="1.75"/>
<polyline points="325.90,128.60 326.37,128.59 326.85,128.56 327.32,128.51 327.79,128.43 328.27,128.34 328.74,128.23 329.22,128.10 329.69,127.95 330.16,127.79 330.64,127.61 331.11,127.42 331.58,127.21 332.06,126.99 332.53,126.76 333.01,126.51 333.48,126.25 333.95,125.98 334.43,125.70 334.90,125.40 335.38,125.09 335.85,124.76 336.32,124.41 336.80,124.05 337.27,123.66 337.74,123.25 338.22,122.81 338.69,122.35 339.16,121.85 339.64,121.32 340.11,120.76 340.59,120.16 341.06,119.53 341.53,118.85 342.01,118.13 342.48,117.37 342.95,116.57 343.43,115.72 343.90,114.82 344.38,113.89 344.85,112.91 345.32,111.89 345.80,110.82 346.27,109.72 346.75,108.58 347.22,107.40 347.69,106.20 348.17,104.96 348.64,103.70 349.11,102.41 349.59,101.10 350.06,99.78 350.53,98.45 351.01,97.11 351.48,95.77 351.96,94.42 352.43,93.08 352.90,91.75 353.38,90.43 353.85,89.13 354.32,87.85 354.80,86.59 355.27,85.35 355.75,84.15 356.22,82.98 356.69,81.84 357.17,80.75 357.64,79.69 358.12,78.68 358.59,77.71 359.06,76.79 359.54,75.91 360.01,75.09 360.48,74.31 360.96,73.59 361.43,72.91 361.90,72.29 362.38,71.73 362.85,71.21 363.33,70.75 363.80,70.34 364.27,69.98 364.75,69.67 365.22,69.41 365.69,69.20 366.17,69.03 366.64,68.92 367.12,68.85 367.59,68.83 368.06,68.85 368.54,68.91 369.01,69.01 369.48,69.15 369.96,69.33 370.43,69.55 370.91,69.80 371.38,70.08 371.85,70.39 372.33,70.74 372.80,71.11 373.27,71.51 373.75,71.94 374.22,72.39 374.70,72.86 375.17,73.35 375.64,73.87 376.12,74.40 376.59,74.94 377.06,75.51 377.54,76.08 378.01,76.67 378.49,77.28 378.96,77.89 379.43,78.51 379.91,79.14 380.38,79.78 380.85,80.42 381.33,81.07 381.80,81.73 382.28,82.38 382.75,83.04 383.22,83.71 383.70,84.37 384.17,85.03 384.64,85.70 385.12,86.36 385.59,87.02 386.07,87.68 386.54,88.34 387.01,88.99 387.49,89.64 387.96,90.29 388.44,90.93 388.91,91.57 389.38,92.20 389.86,92.83 390.33,93.45 390.80,94.07 391.28,94.68 391.75,95.28 392.22,95.88 392.70,96.47 393.17,97.05 393.65,97.62 394.12,98.19 394.59,98.75 395.07,99.31 395.54,99.85 396.01,100.39 396.49,100.92 396.96,101.44 397.44,101.96 397.91,102.46 398.38,102.96 398.86,103.45 399.33,103.94 399.80,104.41 400.28,104.88 400.75,105.34 401.23,105.79 401.70,106.24 403.59,107.94 405.49,109.52 407.38,110.99 409.28,112.35 411.17,113.61 413.07,114.77 414.96,115.84 416.86,116.83 418.75,117.74 420.65,118.58 422.54,119.35 424.44,120.05 426.33,120.71 428.23,121.30 430.12,121.85 432.02,122.36 433.91,122.83 435.81,123.25 437.70,123.65 439.60,124.01 441.49,124.34 443.39,124.65 445.28,124.93 447.18,125.19 449.07,125.43 450.97,125.65 452.87,125.86 454.76,126.05 456.65,126.22 458.55,126.38 460.44,126.53 462.34,126.67 464.24,126.80 466.13,126.92 468.02,127.02 469.92,127.13 471.81,127.22 473.71,127.31 475.61,127.39 477.50,127.46 479.39,127.54 481.29,127.60 483.18,127.66 485.08,127.72 486.97,127.77 488.87,127.82 490.76,127.87 492.66,127.91 494.55,127.95 496.45,127.99 498.35,128.02 500.24,128.05 502.13,128.08 504.03,128.11 505.92,128.14 507.82,128.17 509.71,128.19 511.61,128.21 513.50,128.23 515.40,128.25" stroke="#bc1636" stroke-width="1.75"/>
<line x1="322.1" y1="128.60" x2="325.90" y2="128.60" stroke="#222" stroke-width="1.2"/>
</g>
<rect x="322.1" y="12.0" width="196.10000000000002" height="122.1" fill="none" stroke="#444" stroke-width="1"/>
<path d="M325.90,134.1v-3.0M325.90,12.0v3.0M335.38,134.1v-1.6M335.38,12.0v1.6M344.85,134.1v-1.6M344.85,12.0v1.6M354.32,134.1v-1.6M354.32,12.0v1.6M363.80,134.1v-3.0M363.80,12.0v3.0M373.27,134.1v-1.6M373.27,12.0v1.6M382.75,134.1v-1.6M382.75,12.0v1.6M392.22,134.1v-1.6M392.22,12.0v1.6M401.70,134.1v-3.0M401.70,12.0v3.0M411.17,134.1v-1.6M411.17,12.0v1.6M420.65,134.1v-1.6M420.65,12.0v1.6M430.12,134.1v-1.6M430.12,12.0v1.6M439.60,134.1v-3.0M439.60,12.0v3.0M449.07,134.1v-1.6M449.07,12.0v1.6M458.55,134.1v-1.6M458.55,12.0v1.6M468.02,134.1v-1.6M468.02,12.0v1.6M477.50,134.1v-3.0M477.50,12.0v3.0M486.97,134.1v-1.6M486.97,12.0v1.6M496.45,134.1v-1.6M496.45,12.0v1.6M505.92,134.1v-1.6M505.92,12.0v1.6M515.40,134.1v-3.0M515.40,12.0v3.0M322.1,128.60h3.0M518.2,128.60h-3.0M322.1,124.03h1.6M518.2,124.03h-1.6M322.1,119.46h1.6M518.2,119.46h-1.6M322.1,114.89h1.6M518.2,114.89h-1.6M322.1,110.32h3.0M518.2,110.32h-3.0M322.1,105.75h1.6M518.2,105.75h-1.6M322.1,101.18h1.6M518.2,101.18h-1.6M322.1,96.61h1.6M518.2,96.61h-1.6M322.1,92.04h3.0M518.2,92.04h-3.0M322.1,87.47h1.6M518.2,87.47h-1.6M322.1,82.90h1.6M518.2,82.90h-1.6M322.1,78.33h1.6M518.2,78.33h-1.6M322.1,73.76h3.0M518.2,73.76h-3.0M322.1,69.19h1.6M518.2,69.19h-1.6M322.1,64.62h1.6M518.2,64.62h-1.6M322.1,60.05h1.6M518.2,60.05h-1.6M322.1,55.48h3.0M518.2,55.48h-3.0M322.1,50.91h1.6M518.2,50.91h-1.6M322.1,46.34h1.6M518.2,46.34h-1.6M322.1,41.77h1.6M518.2,41.77h-1.6M322.1,37.20h3.0M518.2,37.20h-3.0M322.1,32.63h1.6M518.2,32.63h-1.6M322.1,28.06h1.6M518.2,28.06h-1.6M322.1,23.49h1.6M518.2,23.49h-1.6M322.1,18.92h3.0M518.2,18.92h-3.0M322.1,14.35h1.6M518.2,14.35h-1.6" stroke="#444" stroke-width="0.8" fill="none"/>
<g font-family="'Liberation Sans', Arial, sans-serif" font-size="9.0" fill="#3a3a3a" stroke="#3a3a3a" stroke-width="0.2"><text x="325.10" y="143.30" text-anchor="middle">0</text><text x="363.00" y="143.30" text-anchor="middle">2</text><text x="400.90" y="143.30" text-anchor="middle">4</text><text x="438.80" y="143.30" text-anchor="middle">6</text><text x="476.70" y="143.30" text-anchor="middle">8</text><text x="514.60" y="143.30" text-anchor="middle">10</text><text x="319.50" y="131.20" text-anchor="end">0.0</text><text x="319.50" y="112.92" text-anchor="end">0.2</text><text x="319.50" y="94.64" text-anchor="end">0.4</text><text x="319.50" y="76.36" text-anchor="end">0.6</text><text x="319.50" y="58.08" text-anchor="end">0.8</text><text x="319.50" y="39.80" text-anchor="end">1.0</text><text x="319.50" y="21.52" text-anchor="end">1.2</text></g>
<text x="330.0" y="8.9" font-family="'Liberation Sans', Arial, sans-serif" font-weight="bold" font-size="10" fill="#111" stroke="#111" stroke-width="0.25">(b)</text>
<text x="407.2" y="7.8" font-family="'Liberation Sans', Arial, sans-serif" font-weight="bold" font-size="9.2" fill="#111" stroke="#111" stroke-width="0.35" letter-spacing="0.15"><tspan font-style="italic">κ</tspan>=5.0</text>
<text x="471.1" y="23.80" font-family="'Liberation Sans', Arial, sans-serif" font-weight="bold" font-style="italic" font-size="7.9" fill="#151515" stroke="#151515" stroke-width="0.2" textLength="29.4" lengthAdjust="spacingAndGlyphs">α = 0.0</text>
<text x="470.6" y="35.45" font-family="'Liberation Sans', Arial, sans-serif" font-weight="bold" font-size="8.8" fill="#e040e0" stroke="#e040e0" stroke-width="0.3" textLength="30.5" lengthAdjust="spacingAndGlyphs"><tspan font-style="italic">α</tspan> = 0.1</text>
<text x="470.6" y="47.10" font-family="'Liberation Sans', Arial, sans-serif" font-weight="bold" font-size="8.8" fill="#703088" stroke="#703088" stroke-width="0.3" textLength="30.5" lengthAdjust="spacingAndGlyphs"><tspan font-style="italic">α</tspan> = 0.2</text>
<text x="470.6" y="58.75" font-family="'Liberation Sans', Arial, sans-serif" font-weight="bold" font-size="8.8" fill="#e8964a" stroke="#e8964a" stroke-width="0.3" textLength="30.5" lengthAdjust="spacingAndGlyphs"><tspan font-style="italic">α</tspan> = 0.4</text>
<text x="470.6" y="70.40" font-family="'Liberation Sans', Arial, sans-serif" font-weight="bold" font-size="8.8" fill="#5ae2e2" stroke="#5ae2e2" stroke-width="0.3" textLength="30.5" lengthAdjust="spacingAndGlyphs"><tspan font-style="italic">α</tspan> = 0.6</text>
<text x="470.6" y="82.05" font-family="'Liberation Sans', Arial, sans-serif" font-weight="bold" font-size="8.8" fill="#2424aa" stroke="#2424aa" stroke-width="0.3" textLength="30.5" lengthAdjust="spacingAndGlyphs"><tspan font-style="italic">α</tspan> = 0.8</text>
<text x="470.6" y="93.70" font-family="'Liberation Sans', Arial, sans-serif" font-weight="bold" font-size="8.8" fill="#d03434" stroke="#d03434" stroke-width="0.3" textLength="30.5" lengthAdjust="spacingAndGlyphs"><tspan font-style="italic">α</tspan> = 0.9</text>
<text x="408.6" y="159.6" font-family="'Liberation Sans', Arial, sans-serif" font-weight="bold" font-size="11.5" fill="#111" stroke="#111" stroke-width="0.2">v/<tspan font-style="italic">θ</tspan><tspan font-size="8" dy="2.6">th</tspan></text>
<g transform="translate(298.7,104.8) rotate(-90)"><text x="0" y="0" font-family="'Liberation Sans', Arial, sans-serif" font-weight="bold" font-size="11.75" fill="#111" stroke="#111" stroke-width="0.2"><tspan font-style="italic">π</tspan> v<tspan font-size="8.2" dy="2.0">th</tspan><tspan dy="-2.0">g(v/</tspan><tspan font-style="italic">θ</tspan><tspan font-size="8.2" dy="2.0">th</tspan><tspan dy="-2.0">)/</tspan><tspan font-style="italic">n</tspan><tspan font-size="8.6" dy="1.6">0</tspan></text></g>
<g transform="translate(301.6,113.6) rotate(-90) scale(0.65,1.08)"><text x="-5.6000000000000005" y="0" font-family="'Liberation Sans', Arial, sans-serif" font-size="20" fill="#000" stroke="#000" stroke-width="1.1">√</text></g>
<line x1="284.5" y1="95.5" x2="284.5" y2="109.8" stroke="#000" stroke-width="1.5"/>
<clipPath id="cc"><rect x="42.2" y="191.1" width="189.60000000000002" height="117.1"/></clipPath>
<g clip-path="url(#cc)" fill="none" stroke-linejoin="round" stroke-linecap="round">
<polyline points="46.10,302.60 46.56,302.41 47.01,301.85 47.47,300.92 47.92,299.63 48.38,297.98 48.83,296.00 49.29,293.70 49.75,291.10 50.20,288.21 50.66,285.06 51.11,281.68 51.57,278.09 52.02,274.32 52.48,270.40 52.94,266.36 53.39,262.22 53.85,258.02 54.30,253.79 54.76,249.55 55.22,245.34 55.67,241.18 56.13,237.10 56.58,233.13 57.04,229.28 57.49,225.59 57.95,222.06 58.41,218.73 58.86,215.60 59.32,212.69 59.77,210.01 60.23,207.58 60.68,205.40 61.14,203.47 61.60,201.80 62.05,200.40 62.51,199.26 62.96,198.38 63.42,197.76 63.87,197.39 64.33,197.27 64.79,197.39 65.24,197.74 65.70,198.31 66.15,199.09 66.61,200.07 67.06,201.23 67.52,202.57 67.98,204.08 68.43,205.73 68.89,207.52 69.34,209.42 69.80,211.44 70.25,213.56 70.71,215.76 71.17,218.03 71.62,220.36 72.08,222.74 72.53,225.16 72.99,227.60 73.44,230.07 73.90,232.53 74.36,235.00 74.81,237.46 75.27,239.91 75.72,242.33 76.18,244.72 76.64,247.08 77.09,249.39 77.55,251.66 78.00,253.89 78.46,256.06 78.91,258.17 79.37,260.23 79.83,262.23 80.28,264.17 80.74,266.05 81.19,267.86 81.65,269.61 82.10,271.29 82.56,272.92 83.02,274.48 83.47,275.97 83.93,277.40 84.38,278.78 84.84,280.09 85.29,281.34 85.75,282.54 86.21,283.68 86.66,284.77 87.12,285.80 87.57,286.78 88.03,287.71 88.48,288.60 88.94,289.44 89.40,290.23 89.85,290.98 90.31,291.69 90.76,292.36 91.22,293.00 91.68,293.60 92.13,294.16 92.59,294.70 93.04,295.20 93.50,295.67 93.95,296.11 94.41,296.53 94.87,296.92 95.32,297.29 95.78,297.64 96.23,297.96 96.69,298.27 97.14,298.56 97.60,298.82 98.06,299.08 98.51,299.31 98.97,299.53 99.42,299.74 99.88,299.93 100.33,300.11 100.79,300.28 101.25,300.44 101.70,300.58 102.16,300.72 102.61,300.85 103.07,300.97 103.52,301.08 103.98,301.18 104.44,301.28 104.89,301.37 105.35,301.46 105.80,301.54 106.26,301.61 106.71,301.68 107.17,301.74 107.63,301.80 108.08,301.86 108.54,301.91 108.99,301.96 109.45,302.00 109.91,302.04 110.36,302.08 110.82,302.12 111.27,302.15 111.73,302.18 112.18,302.21 112.64,302.24 113.10,302.26 113.55,302.29 114.01,302.31 114.46,302.33 114.92,302.35 115.37,302.37 115.83,302.38 116.29,302.40 116.74,302.41 117.20,302.43 117.65,302.44 118.11,302.45 118.56,302.46 119.02,302.47 120.84,302.50 122.67,302.53 124.49,302.54 126.31,302.56 128.13,302.57 129.96,302.58 131.78,302.58 133.60,302.59 135.43,302.59 137.25,302.59 139.07,302.59 140.90,302.60 142.72,302.60 144.54,302.60 146.37,302.60 148.19,302.60 150.01,302.60 151.83,302.60 153.66,302.60 155.48,302.60 157.30,302.60 159.13,302.60 160.95,302.60 162.77,302.60 164.59,302.60 166.42,302.60 168.24,302.60 170.06,302.60 171.89,302.60 173.71,302.60 175.53,302.60 177.36,302.60 179.18,302.60 181.00,302.60 182.82,302.60 184.65,302.60 186.47,302.60 188.29,302.60 190.12,302.60 191.94,302.60 193.76,302.60 195.59,302.60 197.41,302.60 199.23,302.60 201.06,302.60 202.88,302.60 204.70,302.60 206.52,302.60 208.35,302.60 210.17,302.60 211.99,302.60 213.82,302.60 215.64,302.60 217.46,302.60 219.28,302.60 221.11,302.60 222.93,302.60 224.75,302.60 226.58,302.60 228.40,302.60" stroke="#111111" stroke-width="1.75"/>
<polyline points="46.10,302.60 46.56,302.53 47.01,302.32 47.47,301.98 47.92,301.50 48.38,300.89 48.83,300.16 49.29,299.30 49.75,298.34 50.20,297.27 50.66,296.10 51.11,294.84 51.57,293.50 52.02,292.09 52.48,290.62 52.94,289.10 53.39,287.53 53.85,285.93 54.30,284.31 54.76,282.66 55.22,281.01 55.67,279.35 56.13,277.70 56.58,276.06 57.04,274.43 57.49,272.82 57.95,271.23 58.41,269.67 58.86,268.14 59.32,266.64 59.77,265.17 60.23,263.74 60.68,262.34 61.14,260.97 61.60,259.64 62.05,258.34 62.51,257.07 62.96,255.83 63.42,254.63 63.87,253.46 64.33,252.32 64.79,251.20 65.24,250.12 65.70,249.07 66.15,248.04 66.61,247.05 67.06,246.08 67.52,245.15 67.98,244.24 68.43,243.37 68.89,242.54 69.34,241.73 69.80,240.97 70.25,240.25 70.71,239.56 71.17,238.92 71.62,238.33 72.08,237.78 72.53,237.28 72.99,236.83 73.44,236.43 73.90,236.09 74.36,235.80 74.81,235.57 75.27,235.40 75.72,235.29 76.18,235.24 76.64,235.25 77.09,235.33 77.55,235.46 78.00,235.66 78.46,235.91 78.91,236.23 79.37,236.60 79.83,237.04 80.28,237.53 80.74,238.07 81.19,238.67 81.65,239.32 82.10,240.02 82.56,240.77 83.02,241.56 83.47,242.40 83.93,243.27 84.38,244.19 84.84,245.13 85.29,246.11 85.75,247.12 86.21,248.15 86.66,249.21 87.12,250.29 87.57,251.38 88.03,252.49 88.48,253.61 88.94,254.75 89.40,255.89 89.85,257.04 90.31,258.18 90.76,259.33 91.22,260.48 91.68,261.63 92.13,262.76 92.59,263.90 93.04,265.02 93.50,266.13 93.95,267.23 94.41,268.32 94.87,269.39 95.32,270.45 95.78,271.49 96.23,272.51 96.69,273.51 97.14,274.49 97.60,275.46 98.06,276.40 98.51,277.32 98.97,278.23 99.42,279.10 99.88,279.96 100.33,280.80 100.79,281.61 101.25,282.40 101.70,283.17 102.16,283.92 102.61,284.64 103.07,285.34 103.52,286.02 103.98,286.68 104.44,287.32 104.89,287.94 105.35,288.54 105.80,289.11 106.26,289.67 106.71,290.21 107.17,290.72 107.63,291.22 108.08,291.70 108.54,292.17 108.99,292.61 109.45,293.04 109.91,293.46 110.36,293.85 110.82,294.24 111.27,294.60 111.73,294.96 112.18,295.29 112.64,295.62 113.10,295.93 113.55,296.23 114.01,296.51 114.46,296.79 114.92,297.05 115.37,297.30 115.83,297.54 116.29,297.77 116.74,297.99 117.20,298.21 117.65,298.41 118.11,298.60 118.56,298.79 119.02,298.96 120.84,299.59 122.67,300.12 124.49,300.55 126.31,300.91 128.13,301.21 129.96,301.46 131.78,301.66 133.60,301.83 135.43,301.96 137.25,302.08 139.07,302.17 140.90,302.25 142.72,302.31 144.54,302.36 146.37,302.40 148.19,302.44 150.01,302.46 151.83,302.49 153.66,302.51 155.48,302.52 157.30,302.54 159.13,302.55 160.95,302.56 162.77,302.56 164.59,302.57 166.42,302.57 168.24,302.58 170.06,302.58 171.89,302.59 173.71,302.59 175.53,302.59 177.36,302.59 179.18,302.59 181.00,302.59 182.82,302.59 184.65,302.60 186.47,302.60 188.29,302.60 190.12,302.60 191.94,302.60 193.76,302.60 195.59,302.60 197.41,302.60 199.23,302.60 201.06,302.60 202.88,302.60 204.70,302.60 206.52,302.60 208.35,302.60 210.17,302.60 211.99,302.60 213.82,302.60 215.64,302.60 217.46,302.60 219.28,302.60 221.11,302.60 222.93,302.60 224.75,302.60 226.58,302.60 228.40,302.60" stroke="#e020e0" stroke-width="1.75"/>
<polyline points="46.10,302.60 46.56,302.56 47.01,302.43 47.47,302.22 47.92,301.92 48.38,301.55 48.83,301.10 49.29,300.58 49.75,299.98 50.20,299.32 50.66,298.61 51.11,297.83 51.57,297.00 52.02,296.13 52.48,295.22 52.94,294.27 53.39,293.29 53.85,292.28 54.30,291.24 54.76,290.19 55.22,289.12 55.67,288.03 56.13,286.93 56.58,285.81 57.04,284.69 57.49,283.55 57.95,282.41 58.41,281.25 58.86,280.08 59.32,278.90 59.77,277.71 60.23,276.50 60.68,275.28 61.14,274.04 61.60,272.78 62.05,271.50 62.51,270.21 62.96,268.89 63.42,267.56 63.87,266.20 64.33,264.83 64.79,263.43 65.24,262.02 65.70,260.60 66.15,259.17 66.61,257.72 67.06,256.27 67.52,254.82 67.98,253.37 68.43,251.93 68.89,250.49 69.34,249.08 69.80,247.68 70.25,246.31 70.71,244.97 71.17,243.67 71.62,242.41 72.08,241.19 72.53,240.03 72.99,238.92 73.44,237.88 73.90,236.90 74.36,235.98 74.81,235.14 75.27,234.38 75.72,233.69 76.18,233.09 76.64,232.57 77.09,232.13 77.55,231.78 78.00,231.51 78.46,231.33 78.91,231.24 79.37,231.23 79.83,231.31 80.28,231.47 80.74,231.71 81.19,232.04 81.65,232.44 82.10,232.92 82.56,233.46 83.02,234.08 83.47,234.77 83.93,235.52 84.38,236.32 84.84,237.19 85.29,238.10 85.75,239.07 86.21,240.08 86.66,241.13 87.12,242.21 87.57,243.34 88.03,244.49 88.48,245.66 88.94,246.86 89.40,248.08 89.85,249.32 90.31,250.57 90.76,251.83 91.22,253.09 91.68,254.36 92.13,255.63 92.59,256.90 93.04,258.16 93.50,259.42 93.95,260.67 94.41,261.91 94.87,263.13 95.32,264.35 95.78,265.54 96.23,266.72 96.69,267.88 97.14,269.03 97.60,270.15 98.06,271.25 98.51,272.33 98.97,273.38 99.42,274.42 99.88,275.42 100.33,276.41 100.79,277.37 101.25,278.30 101.70,279.21 102.16,280.10 102.61,280.96 103.07,281.79 103.52,282.60 103.98,283.39 104.44,284.15 104.89,284.89 105.35,285.60 105.80,286.29 106.26,286.95 106.71,287.60 107.17,288.22 107.63,288.82 108.08,289.40 108.54,289.95 108.99,290.49 109.45,291.01 109.91,291.51 110.36,291.98 110.82,292.44 111.27,292.89 111.73,293.31 112.18,293.72 112.64,294.11 113.10,294.49 113.55,294.85 114.01,295.20 114.46,295.53 114.92,295.85 115.37,296.15 115.83,296.44 116.29,296.72 116.74,296.99 117.20,297.25 117.65,297.49 118.11,297.73 118.56,297.95 119.02,298.16 120.84,298.93 122.67,299.57 124.49,300.10 126.31,300.54 128.13,300.90 129.96,301.20 131.78,301.45 133.60,301.65 135.43,301.82 137.25,301.96 139.07,302.07 140.90,302.17 142.72,302.24 144.54,302.30 146.37,302.36 148.19,302.40 150.01,302.43 151.83,302.46 153.66,302.49 155.48,302.51 157.30,302.52 159.13,302.53 160.95,302.55 162.77,302.55 164.59,302.56 166.42,302.57 168.24,302.57 170.06,302.58 171.89,302.58 173.71,302.58 175.53,302.59 177.36,302.59 179.18,302.59 181.00,302.59 182.82,302.59 184.65,302.59 186.47,302.60 188.29,302.60 190.12,302.60 191.94,302.60 193.76,302.60 195.59,302.60 197.41,302.60 199.23,302.60 201.06,302.60 202.88,302.60 204.70,302.60 206.52,302.60 208.35,302.60 210.17,302.60 211.99,302.60 213.82,302.60 215.64,302.60 217.46,302.60 219.28,302.60 221.11,302.60 222.93,302.60 224.75,302.60 226.58,302.60 228.40,302.60" stroke="#5e1a72" stroke-width="1.75"/>
<polyline points="46.10,302.60 46.56,302.58 47.01,302.50 47.47,302.38 47.92,302.22 48.38,302.01 48.83,301.75 49.29,301.46 49.75,301.12 50.20,300.75 50.66,300.34 51.11,299.90 51.57,299.43 52.02,298.93 52.48,298.40 52.94,297.85 53.39,297.27 53.85,296.67 54.30,296.05 54.76,295.40 55.22,294.73 55.67,294.03 56.13,293.31 56.58,292.57 57.04,291.79 57.49,290.98 57.95,290.14 58.41,289.27 58.86,288.35 59.32,287.39 59.77,286.39 60.23,285.34 60.68,284.24 61.14,283.09 61.60,281.88 62.05,280.62 62.51,279.30 62.96,277.93 63.42,276.50 63.87,275.02 64.33,273.49 64.79,271.90 65.24,270.27 65.70,268.59 66.15,266.87 66.61,265.11 67.06,263.33 67.52,261.52 67.98,259.69 68.43,257.85 68.89,256.01 69.34,254.16 69.80,252.33 70.25,250.51 70.71,248.72 71.17,246.96 71.62,245.23 72.08,243.56 72.53,241.94 72.99,240.37 73.44,238.88 73.90,237.45 74.36,236.11 74.81,234.85 75.27,233.67 75.72,232.59 76.18,231.60 76.64,230.71 77.09,229.92 77.55,229.23 78.00,228.64 78.46,228.16 78.91,227.79 79.37,227.51 79.83,227.35 80.28,227.28 80.74,227.31 81.19,227.45 81.65,227.67 82.10,228.00 82.56,228.41 83.02,228.90 83.47,229.49 83.93,230.15 84.38,230.88 84.84,231.69 85.29,232.56 85.75,233.49 86.21,234.49 86.66,235.53 87.12,236.63 87.57,237.77 88.03,238.95 88.48,240.16 88.94,241.41 89.40,242.68 89.85,243.98 90.31,245.30 90.76,246.63 91.22,247.97 91.68,249.33 92.13,250.69 92.59,252.05 93.04,253.41 93.50,254.77 93.95,256.12 94.41,257.47 94.87,258.80 95.32,260.12 95.78,261.43 96.23,262.72 96.69,263.99 97.14,265.24 97.60,266.47 98.06,267.68 98.51,268.87 98.97,270.03 99.42,271.17 99.88,272.28 100.33,273.37 100.79,274.43 101.25,275.47 101.70,276.47 102.16,277.45 102.61,278.41 103.07,279.33 103.52,280.23 103.98,281.11 104.44,281.95 104.89,282.77 105.35,283.57 105.80,284.33 106.26,285.08 106.71,285.79 107.17,286.49 107.63,287.15 108.08,287.80 108.54,288.42 108.99,289.02 109.45,289.60 109.91,290.15 110.36,290.69 110.82,291.20 111.27,291.70 111.73,292.17 112.18,292.63 112.64,293.07 113.10,293.49 113.55,293.90 114.01,294.28 114.46,294.66 114.92,295.01 115.37,295.35 115.83,295.68 116.29,295.99 116.74,296.29 117.20,296.58 117.65,296.86 118.11,297.12 118.56,297.37 119.02,297.61 120.84,298.47 122.67,299.19 124.49,299.79 126.31,300.28 128.13,300.69 129.96,301.03 131.78,301.31 133.60,301.53 135.43,301.72 137.25,301.88 139.07,302.01 140.90,302.11 142.72,302.20 144.54,302.27 146.37,302.33 148.19,302.37 150.01,302.41 151.83,302.44 153.66,302.47 155.48,302.49 157.30,302.51 159.13,302.53 160.95,302.54 162.77,302.55 164.59,302.56 166.42,302.56 168.24,302.57 170.06,302.58 171.89,302.58 173.71,302.58 175.53,302.59 177.36,302.59 179.18,302.59 181.00,302.59 182.82,302.59 184.65,302.59 186.47,302.59 188.29,302.60 190.12,302.60 191.94,302.60 193.76,302.60 195.59,302.60 197.41,302.60 199.23,302.60 201.06,302.60 202.88,302.60 204.70,302.60 206.52,302.60 208.35,302.60 210.17,302.60 211.99,302.60 213.82,302.60 215.64,302.60 217.46,302.60 219.28,302.60 221.11,302.60 222.93,302.60 224.75,302.60 226.58,302.60 228.40,302.60" stroke="#e8903c" stroke-width="1.75"/>
<polyline points="46.10,302.60 46.56,302.58 47.01,302.53 47.47,302.45 47.92,302.33 48.38,302.19 48.83,302.01 49.29,301.80 49.75,301.57 50.20,301.31 50.66,301.02 51.11,300.71 51.57,300.38 52.02,300.03 52.48,299.65 52.94,299.25 53.39,298.83 53.85,298.39 54.30,297.93 54.76,297.45 55.22,296.93 55.67,296.39 56.13,295.82 56.58,295.22 57.04,294.58 57.49,293.90 57.95,293.18 58.41,292.42 58.86,291.60 59.32,290.73 59.77,289.80 60.23,288.81 60.68,287.76 61.14,286.64 61.60,285.45 62.05,284.20 62.51,282.88 62.96,281.48 63.42,280.02 63.87,278.49 64.33,276.89 64.79,275.23 65.24,273.50 65.70,271.73 66.15,269.89 66.61,268.02 67.06,266.10 67.52,264.15 67.98,262.17 68.43,260.18 68.89,258.17 69.34,256.16 69.80,254.15 70.25,252.16 70.71,250.19 71.17,248.25 71.62,246.35 72.08,244.49 72.53,242.69 72.99,240.94 73.44,239.27 73.90,237.67 74.36,236.16 74.81,234.73 75.27,233.39 75.72,232.15 76.18,231.01 76.64,229.98 77.09,229.05 77.55,228.23 78.00,227.52 78.46,226.92 78.91,226.43 79.37,226.05 79.83,225.79 80.28,225.63 80.74,225.58 81.19,225.64 81.65,225.80 82.10,226.06 82.56,226.42 83.02,226.87 83.47,227.41 83.93,228.04 84.38,228.74 84.84,229.53 85.29,230.38 85.75,231.30 86.21,232.29 86.66,233.33 87.12,234.43 87.57,235.58 88.03,236.77 88.48,238.00 88.94,239.26 89.40,240.56 89.85,241.88 90.31,243.23 90.76,244.59 91.22,245.96 91.68,247.35 92.13,248.75 92.59,250.15 93.04,251.55 93.50,252.94 93.95,254.34 94.41,255.72 94.87,257.10 95.32,258.46 95.78,259.81 96.23,261.14 96.69,262.46 97.14,263.75 97.60,265.03 98.06,266.28 98.51,267.51 98.97,268.71 99.42,269.89 99.88,271.05 100.33,272.18 100.79,273.28 101.25,274.35 101.70,275.40 102.16,276.41 102.61,277.41 103.07,278.37 103.52,279.30 103.98,280.21 104.44,281.09 104.89,281.94 105.35,282.77 105.80,283.57 106.26,284.34 106.71,285.08 107.17,285.80 107.63,286.50 108.08,287.17 108.54,287.82 108.99,288.44 109.45,289.05 109.91,289.62 110.36,290.18 110.82,290.72 111.27,291.23 111.73,291.73 112.18,292.20 112.64,292.66 113.10,293.10 113.55,293.52 114.01,293.93 114.46,294.31 114.92,294.68 115.37,295.04 115.83,295.38 116.29,295.71 116.74,296.02 117.20,296.32 117.65,296.61 118.11,296.88 118.56,297.15 119.02,297.40 120.84,298.29 122.67,299.04 124.49,299.66 126.31,300.18 128.13,300.61 129.96,300.96 131.78,301.25 133.60,301.49 135.43,301.68 137.25,301.85 139.07,301.98 140.90,302.09 142.72,302.18 144.54,302.25 146.37,302.31 148.19,302.36 150.01,302.40 151.83,302.44 153.66,302.47 155.48,302.49 157.30,302.51 159.13,302.52 160.95,302.54 162.77,302.55 164.59,302.56 166.42,302.56 168.24,302.57 170.06,302.57 171.89,302.58 173.71,302.58 175.53,302.58 177.36,302.59 179.18,302.59 181.00,302.59 182.82,302.59 184.65,302.59 186.47,302.59 188.29,302.60 190.12,302.60 191.94,302.60 193.76,302.60 195.59,302.60 197.41,302.60 199.23,302.60 201.06,302.60 202.88,302.60 204.70,302.60 206.52,302.60 208.35,302.60 210.17,302.60 211.99,302.60 213.82,302.60 215.64,302.60 217.46,302.60 219.28,302.60 221.11,302.60 222.93,302.60 224.75,302.60 226.58,302.60 228.40,302.60" stroke="#40e0e0" stroke-width="1.75"/>
<polyline points="46.10,302.60 46.56,302.59 47.01,302.55 47.47,302.48 47.92,302.40 48.38,302.28 48.83,302.15 49.29,301.99 49.75,301.81 50.20,301.61 50.66,301.39 51.11,301.15 51.57,300.89 52.02,300.61 52.48,300.32 52.94,300.00 53.39,299.67 53.85,299.32 54.30,298.94 54.76,298.54 55.22,298.11 55.67,297.65 56.13,297.16 56.58,296.64 57.04,296.07 57.49,295.46 57.95,294.81 58.41,294.10 58.86,293.33 59.32,292.51 59.77,291.62 60.23,290.66 60.68,289.64 61.14,288.54 61.60,287.36 62.05,286.11 62.51,284.79 62.96,283.38 63.42,281.90 63.87,280.34 64.33,278.71 64.79,277.00 65.24,275.23 65.70,273.40 66.15,271.51 66.61,269.57 67.06,267.58 67.52,265.56 67.98,263.50 68.43,261.42 68.89,259.33 69.34,257.23 69.80,255.13 70.25,253.04 70.71,250.98 71.17,248.94 71.62,246.94 72.08,244.98 72.53,243.09 72.99,241.25 73.44,239.48 73.90,237.79 74.36,236.18 74.81,234.67 75.27,233.24 75.72,231.92 76.18,230.70 76.64,229.59 77.09,228.58 77.55,227.69 78.00,226.91 78.46,226.25 78.91,225.70 79.37,225.27 79.83,224.96 80.28,224.75 80.74,224.66 81.19,224.68 81.65,224.80 82.10,225.03 82.56,225.36 83.02,225.78 83.47,226.30 83.93,226.91 84.38,227.60 84.84,228.37 85.29,229.22 85.75,230.13 86.21,231.12 86.66,232.16 87.12,233.26 87.57,234.41 88.03,235.61 88.48,236.84 88.94,238.12 89.40,239.42 89.85,240.76 90.31,242.12 90.76,243.50 91.22,244.89 91.68,246.30 92.13,247.71 92.59,249.13 93.04,250.55 93.50,251.97 93.95,253.38 94.41,254.79 94.87,256.19 95.32,257.57 95.78,258.95 96.23,260.30 96.69,261.64 97.14,262.96 97.60,264.26 98.06,265.53 98.51,266.78 98.97,268.01 99.42,269.21 99.88,270.39 100.33,271.54 100.79,272.66 101.25,273.75 101.70,274.82 102.16,275.86 102.61,276.87 103.07,277.85 103.52,278.81 103.98,279.73 104.44,280.63 104.89,281.50 105.35,282.34 105.80,283.15 106.26,283.94 106.71,284.71 107.17,285.44 107.63,286.15 108.08,286.84 108.54,287.50 108.99,288.14 109.45,288.75 109.91,289.34 110.36,289.91 110.82,290.46 111.27,290.98 111.73,291.49 112.18,291.98 112.64,292.44 113.10,292.89 113.55,293.32 114.01,293.73 114.46,294.13 114.92,294.51 115.37,294.87 115.83,295.22 116.29,295.56 116.74,295.88 117.20,296.18 117.65,296.48 118.11,296.76 118.56,297.02 119.02,297.28 120.84,298.20 122.67,298.96 124.49,299.60 126.31,300.13 128.13,300.56 129.96,300.92 131.78,301.22 133.60,301.46 135.43,301.66 137.25,301.83 139.07,301.97 140.90,302.08 142.72,302.17 144.54,302.24 146.37,302.31 148.19,302.36 150.01,302.40 151.83,302.43 153.66,302.46 155.48,302.49 157.30,302.51 159.13,302.52 160.95,302.53 162.77,302.55 164.59,302.55 166.42,302.56 168.24,302.57 170.06,302.57 171.89,302.58 173.71,302.58 175.53,302.58 177.36,302.59 179.18,302.59 181.00,302.59 182.82,302.59 184.65,302.59 186.47,302.59 188.29,302.60 190.12,302.60 191.94,302.60 193.76,302.60 195.59,302.60 197.41,302.60 199.23,302.60 201.06,302.60 202.88,302.60 204.70,302.60 206.52,302.60 208.35,302.60 210.17,302.60 211.99,302.60 213.82,302.60 215.64,302.60 217.46,302.60 219.28,302.60 221.11,302.60 222.93,302.60 224.75,302.60 226.58,302.60 228.40,302.60" stroke="#1c1ca8" stroke-width="1.75"/>
<polyline points="46.10,302.60 46.56,302.59 47.01,302.55 47.47,302.50 47.92,302.42 48.38,302.32 48.83,302.19 49.29,302.05 49.75,301.89 50.20,301.71 50.66,301.51 51.11,301.30 51.57,301.06 52.02,300.81 52.48,300.55 52.94,300.26 53.39,299.96 53.85,299.63 54.30,299.29 54.76,298.91 55.22,298.52 55.67,298.09 56.13,297.63 56.58,297.13 57.04,296.59 57.49,296.00 57.95,295.37 58.41,294.68 58.86,293.93 59.32,293.12 59.77,292.25 60.23,291.30 60.68,290.28 61.14,289.19 61.60,288.02 62.05,286.77 62.51,285.44 62.96,284.03 63.42,282.54 63.87,280.97 64.33,279.33 64.79,277.61 65.24,275.83 65.70,273.98 66.15,272.07 66.61,270.10 67.06,268.09 67.52,266.04 67.98,263.96 68.43,261.85 68.89,259.72 69.34,257.59 69.80,255.46 70.25,253.34 70.71,251.25 71.17,249.17 71.62,247.14 72.08,245.16 72.53,243.22 72.99,241.35 73.44,239.55 73.90,237.83 74.36,236.19 74.81,234.65 75.27,233.19 75.72,231.84 76.18,230.59 76.64,229.45 77.09,228.42 77.55,227.51 78.00,226.71 78.46,226.02 78.91,225.46 79.37,225.01 79.83,224.67 80.28,224.45 80.74,224.34 81.19,224.35 81.65,224.46 82.10,224.68 82.56,224.99 83.02,225.41 83.47,225.92 83.93,226.52 84.38,227.21 84.84,227.97 85.29,228.82 85.75,229.73 86.21,230.71 86.66,231.76 87.12,232.86 87.57,234.01 88.03,235.21 88.48,236.45 88.94,237.72 89.40,239.04 89.85,240.37 90.31,241.74 90.76,243.12 91.22,244.52 91.68,245.93 92.13,247.35 92.59,248.78 93.04,250.21 93.50,251.63 93.95,253.06 94.41,254.47 94.87,255.88 95.32,257.27 95.78,258.65 96.23,260.01 96.69,261.36 97.14,262.69 97.60,263.99 98.06,265.27 98.51,266.53 98.97,267.77 99.42,268.98 99.88,270.16 100.33,271.32 100.79,272.45 101.25,273.55 101.70,274.62 102.16,275.67 102.61,276.69 103.07,277.67 103.52,278.63 103.98,279.57 104.44,280.47 104.89,281.35 105.35,282.19 105.80,283.01 106.26,283.81 106.71,284.57 107.17,285.32 107.63,286.03 108.08,286.72 108.54,287.39 108.99,288.03 109.45,288.65 109.91,289.24 110.36,289.82 110.82,290.37 111.27,290.90 111.73,291.41 112.18,291.90 112.64,292.37 113.10,292.82 113.55,293.25 114.01,293.67 114.46,294.07 114.92,294.45 115.37,294.82 115.83,295.17 116.29,295.50 116.74,295.83 117.20,296.13 117.65,296.43 118.11,296.71 118.56,296.98 119.02,297.24 120.84,298.17 122.67,298.94 124.49,299.58 126.31,300.11 128.13,300.55 129.96,300.91 131.78,301.21 133.60,301.45 135.43,301.66 137.25,301.82 139.07,301.96 140.90,302.07 142.72,302.17 144.54,302.24 146.37,302.30 148.19,302.36 150.01,302.40 151.83,302.43 153.66,302.46 155.48,302.49 157.30,302.50 159.13,302.52 160.95,302.53 162.77,302.55 164.59,302.55 166.42,302.56 168.24,302.57 170.06,302.57 171.89,302.58 173.71,302.58 175.53,302.58 177.36,302.59 179.18,302.59 181.00,302.59 182.82,302.59 184.65,302.59 186.47,302.59 188.29,302.60 190.12,302.60 191.94,302.60 193.76,302.60 195.59,302.60 197.41,302.60 199.23,302.60 201.06,302.60 202.88,302.60 204.70,302.60 206.52,302.60 208.35,302.60 210.17,302.60 211.99,302.60 213.82,302.60 215.64,302.60 217.46,302.60 219.28,302.60 221.11,302.60 222.93,302.60 224.75,302.60 226.58,302.60 228.40,302.60" stroke="#bc1636" stroke-width="1.75"/>
<line x1="42.2" y1="302.60" x2="46.10" y2="302.60" stroke="#222" stroke-width="1.2"/>
</g>
<rect x="42.2" y="191.1" width="189.60000000000002" height="117.1" fill="none" stroke="#444" stroke-width="1"/>
<path d="M46.10,308.2v-3.0M46.10,191.1v3.0M55.22,308.2v-1.6M55.22,191.1v1.6M64.33,308.2v-1.6M64.33,191.1v1.6M73.44,308.2v-1.6M73.44,191.1v1.6M82.56,308.2v-3.0M82.56,191.1v3.0M91.68,308.2v-1.6M91.68,191.1v1.6M100.79,308.2v-1.6M100.79,191.1v1.6M109.91,308.2v-1.6M109.91,191.1v1.6M119.02,308.2v-3.0M119.02,191.1v3.0M128.13,308.2v-1.6M128.13,191.1v1.6M137.25,308.2v-1.6M137.25,191.1v1.6M146.37,308.2v-1.6M146.37,191.1v1.6M155.48,308.2v-3.0M155.48,191.1v3.0M164.59,308.2v-1.6M164.59,191.1v1.6M173.71,308.2v-1.6M173.71,191.1v1.6M182.82,308.2v-1.6M182.82,191.1v1.6M191.94,308.2v-3.0M191.94,191.1v3.0M201.06,308.2v-1.6M201.06,191.1v1.6M210.17,308.2v-1.6M210.17,191.1v1.6M219.28,308.2v-1.6M219.28,191.1v1.6M228.40,308.2v-3.0M228.40,191.1v3.0M42.2,302.60h3.0M231.8,302.60h-3.0M42.2,298.70h1.6M231.8,298.70h-1.6M42.2,294.79h1.6M231.8,294.79h-1.6M42.2,290.89h1.6M231.8,290.89h-1.6M42.2,286.98h3.0M231.8,286.98h-3.0M42.2,283.08h1.6M231.8,283.08h-1.6M42.2,279.17h1.6M231.8,279.17h-1.6M42.2,275.27h1.6M231.8,275.27h-1.6M42.2,271.36h3.0M231.8,271.36h-3.0M42.2,267.46h1.6M231.8,267.46h-1.6M42.2,263.55h1.6M231.8,263.55h-1.6M42.2,259.65h1.6M231.8,259.65h-1.6M42.2,255.74h3.0M231.8,255.74h-3.0M42.2,251.84h1.6M231.8,251.84h-1.6M42.2,247.93h1.6M231.8,247.93h-1.6M42.2,244.03h1.6M231.8,244.03h-1.6M42.2,240.12h3.0M231.8,240.12h-3.0M42.2,236.22h1.6M231.8,236.22h-1.6M42.2,232.31h1.6M231.8,232.31h-1.6M42.2,228.41h1.6M231.8,228.41h-1.6M42.2,224.50h3.0M231.8,224.50h-3.0M42.2,220.60h1.6M231.8,220.60h-1.6M42.2,216.69h1.6M231.8,216.69h-1.6M42.2,212.79h1.6M231.8,212.79h-1.6M42.2,208.88h3.0M231.8,208.88h-3.0M42.2,204.98h1.6M231.8,204.98h-1.6M42.2,201.07h1.6M231.8,201.07h-1.6M42.2,197.17h1.6M231.8,197.17h-1.6M42.2,193.26h3.0M231.8,193.26h-3.0" stroke="#444" stroke-width="0.8" fill="none"/>
<g font-family="'Liberation Sans', Arial, sans-serif" font-size="9.6" fill="#3a3a3a" stroke="#3a3a3a" stroke-width="0.2"><text x="45.30" y="317.40" text-anchor="middle">0</text><text x="81.76" y="317.40" text-anchor="middle">2</text><text x="118.22" y="317.40" text-anchor="middle">4</text><text x="154.68" y="317.40" text-anchor="middle">6</text><text x="191.14" y="317.40" text-anchor="middle">8</text><text x="227.60" y="317.40" text-anchor="middle">10</text><text x="39.60" y="305.20" text-anchor="end">0.0</text><text x="39.60" y="289.58" text-anchor="end">0.2</text><text x="39.60" y="273.96" text-anchor="end">0.4</text><text x="39.60" y="258.34" text-anchor="end">0.6</text><text x="39.60" y="242.72" text-anchor="end">0.8</text><text x="39.60" y="227.10" text-anchor="end">1.0</text><text x="39.60" y="211.48" text-anchor="end">1.2</text><text x="39.60" y="195.86" text-anchor="end">1.4</text></g>
<text x="48.1" y="184.8" font-family="'Liberation Sans', Arial, sans-serif" font-weight="bold" font-size="10" fill="#111" stroke="#111" stroke-width="0.25">(c)</text>
<text x="124.6" y="183.8" font-family="'Liberation Sans', Arial, sans-serif" font-weight="bold" font-size="10.0" fill="#111" stroke="#111" stroke-width="0.35" letter-spacing="0.1"><tspan font-style="italic">κ</tspan>=10</text>
<text x="187.5" y="204.90" font-family="'Liberation Sans', Arial, sans-serif" font-weight="bold" font-style="italic" font-size="7.9" fill="#151515" stroke="#151515" stroke-width="0.2" textLength="29.4" lengthAdjust="spacingAndGlyphs">α = 0.0</text>
<text x="187.0" y="216.53" font-family="'Liberation Sans', Arial, sans-serif" font-weight="bold" font-size="8.8" fill="#e040e0" stroke="#e040e0" stroke-width="0.3" textLength="30.5" lengthAdjust="spacingAndGlyphs"><tspan font-style="italic">α</tspan> = 0.1</text>
<text x="187.0" y="228.16" font-family="'Liberation Sans', Arial, sans-serif" font-weight="bold" font-size="8.8" fill="#703088" stroke="#703088" stroke-width="0.3" textLength="30.5" lengthAdjust="spacingAndGlyphs"><tspan font-style="italic">α</tspan> = 0.2</text>
<text x="187.0" y="239.79" font-family="'Liberation Sans', Arial, sans-serif" font-weight="bold" font-size="8.8" fill="#e8964a" stroke="#e8964a" stroke-width="0.3" textLength="30.5" lengthAdjust="spacingAndGlyphs"><tspan font-style="italic">α</tspan> = 0.4</text>
<text x="187.0" y="251.42" font-family="'Liberation Sans', Arial, sans-serif" font-weight="bold" font-size="8.8" fill="#5ae2e2" stroke="#5ae2e2" stroke-width="0.3" textLength="30.5" lengthAdjust="spacingAndGlyphs"><tspan font-style="italic">α</tspan> = 0.6</text>
<text x="187.0" y="263.05" font-family="'Liberation Sans', Arial, sans-serif" font-weight="bold" font-size="8.8" fill="#2424aa" stroke="#2424aa" stroke-width="0.3" textLength="30.5" lengthAdjust="spacingAndGlyphs"><tspan font-style="italic">α</tspan> = 0.8</text>
<text x="187.0" y="274.68" font-family="'Liberation Sans', Arial, sans-serif" font-weight="bold" font-size="8.8" fill="#d03434" stroke="#d03434" stroke-width="0.3" textLength="30.5" lengthAdjust="spacingAndGlyphs"><tspan font-style="italic">α</tspan> = 0.9</text>
<text x="124.4" y="334.4" font-family="'Liberation Sans', Arial, sans-serif" font-weight="bold" font-size="11.5" fill="#111" stroke="#111" stroke-width="0.2">v/<tspan font-style="italic">θ</tspan><tspan font-size="8" dy="2.6">th</tspan></text>
<g transform="translate(18.2,281.8) rotate(-90)"><text x="0" y="0" font-family="'Liberation Sans', Arial, sans-serif" font-weight="bold" font-size="11.75" fill="#111" stroke="#111" stroke-width="0.2"><tspan font-style="italic">π</tspan> v<tspan font-size="8.2" dy="2.0">th</tspan><tspan dy="-2.0">g(v/</tspan><tspan font-style="italic">θ</tspan><tspan font-size="8.2" dy="2.0">th</tspan><tspan dy="-2.0">)/</tspan><tspan font-style="italic">n</tspan><tspan font-size="8.6" dy="1.6">0</tspan></text></g>
<g transform="translate(20.6,290.2) rotate(-90) scale(0.65,1.08)"><text x="-5.6000000000000005" y="0" font-family="'Liberation Sans', Arial, sans-serif" font-size="20" fill="#000" stroke="#000" stroke-width="1.1">√</text></g>
<line x1="3.5" y1="272.0" x2="3.5" y2="286.4" stroke="#000" stroke-width="1.5"/>
<clipPath id="cd"><rect x="323.4" y="187.9" width="194.70000000000005" height="120.49999999999997"/></clipPath>
<g clip-path="url(#cd)" fill="none" stroke-linejoin="round" stroke-linecap="round">
<polyline points="327.10,302.40 327.57,302.22 328.04,301.69 328.50,300.80 328.97,299.56 329.44,297.99 329.91,296.10 330.38,293.89 330.84,291.39 331.31,288.62 331.78,285.59 332.25,282.33 332.72,278.86 333.18,275.21 333.65,271.41 334.12,267.47 334.59,263.44 335.06,259.32 335.52,255.17 335.99,251.00 336.46,246.84 336.93,242.71 337.40,238.66 337.86,234.69 338.33,230.83 338.80,227.11 339.27,223.56 339.74,220.17 340.20,216.99 340.67,214.02 341.14,211.27 341.61,208.76 342.08,206.51 342.54,204.51 343.01,202.77 343.48,201.30 343.95,200.10 344.42,199.18 344.88,198.52 345.35,198.13 345.82,198.00 346.29,198.12 346.76,198.50 347.22,199.11 347.69,199.96 348.16,201.02 348.63,202.29 349.10,203.75 349.56,205.39 350.03,207.20 350.50,209.17 350.97,211.27 351.44,213.49 351.90,215.83 352.37,218.26 352.84,220.77 353.31,223.35 353.78,225.98 354.24,228.65 354.71,231.36 355.18,234.08 355.65,236.80 356.12,239.52 356.58,242.23 357.05,244.91 357.52,247.56 357.99,250.17 358.46,252.73 358.92,255.23 359.39,257.68 359.86,260.07 360.33,262.38 360.80,264.63 361.26,266.80 361.73,268.89 362.20,270.90 362.67,272.84 363.14,274.69 363.60,276.46 364.07,278.15 364.54,279.77 365.01,281.30 365.48,282.75 365.94,284.13 366.41,285.43 366.88,286.66 367.35,287.82 367.82,288.91 368.28,289.94 368.75,290.90 369.22,291.80 369.69,292.64 370.16,293.42 370.62,294.15 371.09,294.83 371.56,295.46 372.03,296.05 372.50,296.59 372.96,297.10 373.43,297.56 373.90,297.99 374.37,298.39 374.84,298.75 375.30,299.08 375.77,299.39 376.24,299.67 376.71,299.93 377.18,300.16 377.64,300.38 378.11,300.58 378.58,300.75 379.05,300.92 379.52,301.07 379.98,301.20 380.45,301.32 380.92,301.43 381.39,301.53 381.86,301.62 382.32,301.70 382.79,301.78 383.26,301.84 383.73,301.90 384.20,301.96 384.66,302.00 385.13,302.05 385.60,302.09 386.07,302.12 386.54,302.15 387.00,302.18 387.47,302.21 387.94,302.23 388.41,302.25 388.88,302.27 389.34,302.28 389.81,302.29 390.28,302.31 390.75,302.32 391.22,302.33 391.68,302.34 392.15,302.34 392.62,302.35 393.09,302.36 393.56,302.36 394.02,302.37 394.49,302.37 394.96,302.37 395.43,302.38 395.90,302.38 396.36,302.38 396.83,302.39 397.30,302.39 397.77,302.39 398.24,302.39 398.70,302.39 399.17,302.39 399.64,302.39 400.11,302.39 400.58,302.40 401.04,302.40 401.51,302.40 401.98,302.40 403.85,302.40 405.72,302.40 407.60,302.40 409.47,302.40 411.34,302.40 413.21,302.40 415.08,302.40 416.96,302.40 418.83,302.40 420.70,302.40 422.57,302.40 424.44,302.40 426.32,302.40 428.19,302.40 430.06,302.40 431.93,302.40 433.80,302.40 435.68,302.40 437.55,302.40 439.42,302.40 441.29,302.40 443.16,302.40 445.04,302.40 446.91,302.40 448.78,302.40 450.65,302.40 452.52,302.40 454.40,302.40 456.27,302.40 458.14,302.40 460.01,302.40 461.88,302.40 463.76,302.40 465.63,302.40 467.50,302.40 469.37,302.40 471.24,302.40 473.12,302.40 474.99,302.40 476.86,302.40 478.73,302.40 480.60,302.40 482.48,302.40 484.35,302.40 486.22,302.40 488.09,302.40 489.96,302.40 491.84,302.40 493.71,302.40 495.58,302.40 497.45,302.40 499.32,302.40 501.20,302.40 503.07,302.40 504.94,302.40 506.81,302.40 508.68,302.40 510.56,302.40 512.43,302.40 514.30,302.40" stroke="#111111" stroke-width="1.75"/>
<polyline points="327.10,302.40 327.57,302.33 328.04,302.12 328.50,301.77 328.97,301.28 329.44,300.66 329.91,299.91 330.38,299.04 330.84,298.05 331.31,296.95 331.78,295.75 332.25,294.46 332.72,293.07 333.18,291.62 333.65,290.09 334.12,288.50 334.59,286.86 335.06,285.18 335.52,283.46 335.99,281.71 336.46,279.94 336.93,278.15 337.40,276.35 337.86,274.55 338.33,272.75 338.80,270.95 339.27,269.16 339.74,267.38 340.20,265.61 340.67,263.86 341.14,262.12 341.61,260.39 342.08,258.68 342.54,256.99 343.01,255.31 343.48,253.65 343.95,252.01 344.42,250.39 344.88,248.79 345.35,247.20 345.82,245.64 346.29,244.10 346.76,242.58 347.22,241.09 347.69,239.64 348.16,238.21 348.63,236.82 349.10,235.48 349.56,234.18 350.03,232.93 350.50,231.73 350.97,230.60 351.44,229.53 351.90,228.53 352.37,227.61 352.84,226.78 353.31,226.02 353.78,225.37 354.24,224.81 354.71,224.35 355.18,223.99 355.65,223.74 356.12,223.61 356.58,223.58 357.05,223.68 357.52,223.88 357.99,224.21 358.46,224.65 358.92,225.20 359.39,225.87 359.86,226.65 360.33,227.54 360.80,228.53 361.26,229.62 361.73,230.81 362.20,232.08 362.67,233.44 363.14,234.89 363.60,236.40 364.07,237.98 364.54,239.62 365.01,241.31 365.48,243.05 365.94,244.83 366.41,246.64 366.88,248.48 367.35,250.33 367.82,252.20 368.28,254.07 368.75,255.94 369.22,257.81 369.69,259.66 370.16,261.49 370.62,263.31 371.09,265.10 371.56,266.85 372.03,268.57 372.50,270.26 372.96,271.90 373.43,273.50 373.90,275.05 374.37,276.55 374.84,278.01 375.30,279.41 375.77,280.76 376.24,282.06 376.71,283.31 377.18,284.50 377.64,285.64 378.11,286.72 378.58,287.76 379.05,288.74 379.52,289.67 379.98,290.56 380.45,291.39 380.92,292.18 381.39,292.93 381.86,293.63 382.32,294.28 382.79,294.90 383.26,295.48 383.73,296.02 384.20,296.52 384.66,296.99 385.13,297.43 385.60,297.84 386.07,298.22 386.54,298.57 387.00,298.90 387.47,299.20 387.94,299.47 388.41,299.73 388.88,299.97 389.34,300.19 389.81,300.39 390.28,300.57 390.75,300.74 391.22,300.89 391.68,301.04 392.15,301.17 392.62,301.28 393.09,301.39 393.56,301.49 394.02,301.58 394.49,301.66 394.96,301.73 395.43,301.80 395.90,301.86 396.36,301.92 396.83,301.97 397.30,302.01 397.77,302.05 398.24,302.09 398.70,302.12 399.17,302.15 399.64,302.18 400.11,302.20 400.58,302.22 401.04,302.24 401.51,302.26 401.98,302.27 403.85,302.32 405.72,302.35 407.60,302.37 409.47,302.38 411.34,302.39 413.21,302.39 415.08,302.40 416.96,302.40 418.83,302.40 420.70,302.40 422.57,302.40 424.44,302.40 426.32,302.40 428.19,302.40 430.06,302.40 431.93,302.40 433.80,302.40 435.68,302.40 437.55,302.40 439.42,302.40 441.29,302.40 443.16,302.40 445.04,302.40 446.91,302.40 448.78,302.40 450.65,302.40 452.52,302.40 454.40,302.40 456.27,302.40 458.14,302.40 460.01,302.40 461.88,302.40 463.76,302.40 465.63,302.40 467.50,302.40 469.37,302.40 471.24,302.40 473.12,302.40 474.99,302.40 476.86,302.40 478.73,302.40 480.60,302.40 482.48,302.40 484.35,302.40 486.22,302.40 488.09,302.40 489.96,302.40 491.84,302.40 493.71,302.40 495.58,302.40 497.45,302.40 499.32,302.40 501.20,302.40 503.07,302.40 504.94,302.40 506.81,302.40 508.68,302.40 510.56,302.40 512.43,302.40 514.30,302.40" stroke="#e020e0" stroke-width="1.75"/>
<polyline points="327.10,302.40 327.57,302.36 328.04,302.22 328.50,302.01 328.97,301.70 329.44,301.31 329.91,300.85 330.38,300.30 330.84,299.69 331.31,299.00 331.78,298.25 332.25,297.44 332.72,296.57 333.18,295.65 333.65,294.69 334.12,293.68 334.59,292.63 335.06,291.54 335.52,290.42 335.99,289.26 336.46,288.08 336.93,286.87 337.40,285.63 337.86,284.36 338.33,283.07 338.80,281.74 339.27,280.39 339.74,279.00 340.20,277.58 340.67,276.12 341.14,274.63 341.61,273.10 342.08,271.52 342.54,269.91 343.01,268.24 343.48,266.54 343.95,264.79 344.42,263.00 344.88,261.16 345.35,259.28 345.82,257.36 346.29,255.41 346.76,253.43 347.22,251.43 347.69,249.40 348.16,247.36 348.63,245.32 349.10,243.29 349.56,241.26 350.03,239.26 350.50,237.29 350.97,235.36 351.44,233.48 351.90,231.66 352.37,229.92 352.84,228.25 353.31,226.68 353.78,225.22 354.24,223.86 354.71,222.62 355.18,221.51 355.65,220.53 356.12,219.69 356.58,219.00 357.05,218.45 357.52,218.06 357.99,217.82 358.46,217.74 358.92,217.81 359.39,218.04 359.86,218.43 360.33,218.96 360.80,219.64 361.26,220.47 361.73,221.43 362.20,222.53 362.67,223.75 363.14,225.09 363.60,226.54 364.07,228.09 364.54,229.74 365.01,231.47 365.48,233.28 365.94,235.16 366.41,237.09 366.88,239.08 367.35,241.10 367.82,243.16 368.28,245.24 368.75,247.34 369.22,249.44 369.69,251.54 370.16,253.64 370.62,255.72 371.09,257.78 371.56,259.81 372.03,261.81 372.50,263.77 372.96,265.70 373.43,267.57 373.90,269.40 374.37,271.18 374.84,272.90 375.30,274.57 375.77,276.18 376.24,277.73 376.71,279.21 377.18,280.64 377.64,282.01 378.11,283.31 378.58,284.56 379.05,285.74 379.52,286.87 379.98,287.94 380.45,288.95 380.92,289.91 381.39,290.81 381.86,291.66 382.32,292.46 382.79,293.21 383.26,293.91 383.73,294.57 384.20,295.18 384.66,295.76 385.13,296.30 385.60,296.79 386.07,297.26 386.54,297.69 387.00,298.09 387.47,298.46 387.94,298.80 388.41,299.11 388.88,299.40 389.34,299.67 389.81,299.92 390.28,300.14 390.75,300.35 391.22,300.54 391.68,300.72 392.15,300.88 392.62,301.02 393.09,301.15 393.56,301.27 394.02,301.38 394.49,301.48 394.96,301.58 395.43,301.66 395.90,301.73 396.36,301.80 396.83,301.86 397.30,301.92 397.77,301.97 398.24,302.01 398.70,302.05 399.17,302.09 399.64,302.12 400.11,302.15 400.58,302.18 401.04,302.20 401.51,302.23 401.98,302.24 403.85,302.30 405.72,302.34 407.60,302.36 409.47,302.38 411.34,302.39 413.21,302.39 415.08,302.40 416.96,302.40 418.83,302.40 420.70,302.40 422.57,302.40 424.44,302.40 426.32,302.40 428.19,302.40 430.06,302.40 431.93,302.40 433.80,302.40 435.68,302.40 437.55,302.40 439.42,302.40 441.29,302.40 443.16,302.40 445.04,302.40 446.91,302.40 448.78,302.40 450.65,302.40 452.52,302.40 454.40,302.40 456.27,302.40 458.14,302.40 460.01,302.40 461.88,302.40 463.76,302.40 465.63,302.40 467.50,302.40 469.37,302.40 471.24,302.40 473.12,302.40 474.99,302.40 476.86,302.40 478.73,302.40 480.60,302.40 482.48,302.40 484.35,302.40 486.22,302.40 488.09,302.40 489.96,302.40 491.84,302.40 493.71,302.40 495.58,302.40 497.45,302.40 499.32,302.40 501.20,302.40 503.07,302.40 504.94,302.40 506.81,302.40 508.68,302.40 510.56,302.40 512.43,302.40 514.30,302.40" stroke="#5e1a72" stroke-width="1.75"/>
<polyline points="327.10,302.40 327.57,302.37 328.04,302.30 328.50,302.18 328.97,302.00 329.44,301.78 329.91,301.51 330.38,301.20 330.84,300.85 331.31,300.46 331.78,300.03 332.25,299.56 332.72,299.06 333.18,298.52 333.65,297.95 334.12,297.35 334.59,296.72 335.06,296.06 335.52,295.36 335.99,294.63 336.46,293.87 336.93,293.07 337.40,292.22 337.86,291.33 338.33,290.40 338.80,289.41 339.27,288.36 339.74,287.26 340.20,286.08 340.67,284.84 341.14,283.52 341.61,282.12 342.08,280.65 342.54,279.08 343.01,277.43 343.48,275.69 343.95,273.87 344.42,271.95 344.88,269.95 345.35,267.86 345.82,265.69 346.29,263.45 346.76,261.14 347.22,258.77 347.69,256.34 348.16,253.87 348.63,251.36 349.10,248.83 349.56,246.29 350.03,243.76 350.50,241.23 350.97,238.74 351.44,236.28 351.90,233.88 352.37,231.55 352.84,229.30 353.31,227.15 353.78,225.11 354.24,223.19 354.71,221.39 355.18,219.74 355.65,218.25 356.12,216.91 356.58,215.74 357.05,214.74 357.52,213.92 357.99,213.28 358.46,212.83 358.92,212.56 359.39,212.48 359.86,212.58 360.33,212.87 360.80,213.33 361.26,213.97 361.73,214.77 362.20,215.74 362.67,216.86 363.14,218.13 363.60,219.53 364.07,221.07 364.54,222.72 365.01,224.48 365.48,226.34 365.94,228.29 366.41,230.31 366.88,232.40 367.35,234.55 367.82,236.74 368.28,238.97 368.75,241.22 369.22,243.50 369.69,245.78 370.16,248.05 370.62,250.32 371.09,252.58 371.56,254.81 372.03,257.01 372.50,259.17 372.96,261.29 373.43,263.37 373.90,265.39 374.37,267.36 374.84,269.28 375.30,271.13 375.77,272.92 376.24,274.65 376.71,276.31 377.18,277.90 377.64,279.43 378.11,280.89 378.58,282.29 379.05,283.62 379.52,284.88 379.98,286.08 380.45,287.21 380.92,288.29 381.39,289.30 381.86,290.26 382.32,291.16 382.79,292.00 383.26,292.80 383.73,293.54 384.20,294.23 384.66,294.88 385.13,295.49 385.60,296.05 386.07,296.58 386.54,297.06 387.00,297.51 387.47,297.93 387.94,298.32 388.41,298.67 388.88,299.00 389.34,299.30 389.81,299.58 390.28,299.84 390.75,300.08 391.22,300.29 391.68,300.49 392.15,300.67 392.62,300.83 393.09,300.98 393.56,301.12 394.02,301.25 394.49,301.36 394.96,301.46 395.43,301.56 395.90,301.64 396.36,301.72 396.83,301.79 397.30,301.85 397.77,301.91 398.24,301.96 398.70,302.01 399.17,302.05 399.64,302.09 400.11,302.12 400.58,302.15 401.04,302.18 401.51,302.20 401.98,302.22 403.85,302.29 405.72,302.33 407.60,302.36 409.47,302.38 411.34,302.39 413.21,302.39 415.08,302.39 416.96,302.40 418.83,302.40 420.70,302.40 422.57,302.40 424.44,302.40 426.32,302.40 428.19,302.40 430.06,302.40 431.93,302.40 433.80,302.40 435.68,302.40 437.55,302.40 439.42,302.40 441.29,302.40 443.16,302.40 445.04,302.40 446.91,302.40 448.78,302.40 450.65,302.40 452.52,302.40 454.40,302.40 456.27,302.40 458.14,302.40 460.01,302.40 461.88,302.40 463.76,302.40 465.63,302.40 467.50,302.40 469.37,302.40 471.24,302.40 473.12,302.40 474.99,302.40 476.86,302.40 478.73,302.40 480.60,302.40 482.48,302.40 484.35,302.40 486.22,302.40 488.09,302.40 489.96,302.40 491.84,302.40 493.71,302.40 495.58,302.40 497.45,302.40 499.32,302.40 501.20,302.40 503.07,302.40 504.94,302.40 506.81,302.40 508.68,302.40 510.56,302.40 512.43,302.40 514.30,302.40" stroke="#e8903c" stroke-width="1.75"/>
<polyline points="327.10,302.40 327.57,302.38 328.04,302.33 328.50,302.24 328.97,302.12 329.44,301.97 329.91,301.78 330.38,301.56 330.84,301.32 331.31,301.04 331.78,300.74 332.25,300.41 332.72,300.05 333.18,299.66 333.65,299.26 334.12,298.82 334.59,298.35 335.06,297.86 335.52,297.34 335.99,296.78 336.46,296.18 336.93,295.54 337.40,294.85 337.86,294.11 338.33,293.32 338.80,292.47 339.27,291.54 339.74,290.55 340.20,289.47 340.67,288.31 341.14,287.07 341.61,285.72 342.08,284.28 342.54,282.74 343.01,281.10 343.48,279.34 343.95,277.49 344.42,275.52 344.88,273.45 345.35,271.28 345.82,269.02 346.29,266.66 346.76,264.21 347.22,261.69 347.69,259.11 348.16,256.46 348.63,253.77 349.10,251.05 349.56,248.30 350.03,245.55 350.50,242.80 350.97,240.08 351.44,237.40 351.90,234.77 352.37,232.20 352.84,229.72 353.31,227.34 353.78,225.07 354.24,222.92 354.71,220.90 355.18,219.04 355.65,217.33 356.12,215.80 356.58,214.44 357.05,213.26 357.52,212.27 357.99,211.47 358.46,210.87 358.92,210.47 359.39,210.26 359.86,210.25 360.33,210.44 360.80,210.81 361.26,211.38 361.73,212.12 362.20,213.03 362.67,214.11 363.14,215.35 363.60,216.74 364.07,218.27 364.54,219.92 365.01,221.69 365.48,223.57 365.94,225.55 366.41,227.61 366.88,229.74 367.35,231.93 367.82,234.18 368.28,236.47 368.75,238.79 369.22,241.13 369.69,243.48 370.16,245.83 370.62,248.17 371.09,250.50 371.56,252.81 372.03,255.09 372.50,257.33 372.96,259.53 373.43,261.69 373.90,263.79 374.37,265.84 374.84,267.83 375.30,269.76 375.77,271.62 376.24,273.42 376.71,275.15 377.18,276.81 377.64,278.40 378.11,279.93 378.58,281.38 379.05,282.77 379.52,284.08 379.98,285.34 380.45,286.52 380.92,287.64 381.39,288.70 381.86,289.70 382.32,290.64 382.79,291.52 383.26,292.35 383.73,293.13 384.20,293.86 384.66,294.53 385.13,295.17 385.60,295.76 386.07,296.30 386.54,296.81 387.00,297.28 387.47,297.72 387.94,298.12 388.41,298.50 388.88,298.84 389.34,299.16 389.81,299.45 390.28,299.72 390.75,299.97 391.22,300.19 391.68,300.40 392.15,300.59 392.62,300.76 393.09,300.92 393.56,301.06 394.02,301.19 394.49,301.31 394.96,301.42 395.43,301.52 395.90,301.61 396.36,301.69 396.83,301.76 397.30,301.83 397.77,301.89 398.24,301.94 398.70,301.99 399.17,302.03 399.64,302.07 400.11,302.11 400.58,302.14 401.04,302.17 401.51,302.19 401.98,302.22 403.85,302.28 405.72,302.33 407.60,302.36 409.47,302.37 411.34,302.38 413.21,302.39 415.08,302.39 416.96,302.40 418.83,302.40 420.70,302.40 422.57,302.40 424.44,302.40 426.32,302.40 428.19,302.40 430.06,302.40 431.93,302.40 433.80,302.40 435.68,302.40 437.55,302.40 439.42,302.40 441.29,302.40 443.16,302.40 445.04,302.40 446.91,302.40 448.78,302.40 450.65,302.40 452.52,302.40 454.40,302.40 456.27,302.40 458.14,302.40 460.01,302.40 461.88,302.40 463.76,302.40 465.63,302.40 467.50,302.40 469.37,302.40 471.24,302.40 473.12,302.40 474.99,302.40 476.86,302.40 478.73,302.40 480.60,302.40 482.48,302.40 484.35,302.40 486.22,302.40 488.09,302.40 489.96,302.40 491.84,302.40 493.71,302.40 495.58,302.40 497.45,302.40 499.32,302.40 501.20,302.40 503.07,302.40 504.94,302.40 506.81,302.40 508.68,302.40 510.56,302.40 512.43,302.40 514.30,302.40" stroke="#40e0e0" stroke-width="1.75"/>
<polyline points="327.10,302.40 327.57,302.39 328.04,302.35 328.50,302.28 328.97,302.19 329.44,302.07 329.91,301.92 330.38,301.76 330.84,301.57 331.31,301.35 331.78,301.12 332.25,300.86 332.72,300.58 333.18,300.28 333.65,299.96 334.12,299.61 334.59,299.23 335.06,298.83 335.52,298.40 335.99,297.93 336.46,297.42 336.93,296.87 337.40,296.26 337.86,295.61 338.33,294.89 338.80,294.11 339.27,293.25 339.74,292.32 340.20,291.30 340.67,290.18 341.14,288.97 341.61,287.66 342.08,286.24 342.54,284.71 343.01,283.07 343.48,281.31 343.95,279.43 344.42,277.44 344.88,275.34 345.35,273.12 345.82,270.80 346.29,268.38 346.76,265.87 347.22,263.27 347.69,260.59 348.16,257.86 348.63,255.07 349.10,252.24 349.56,249.38 350.03,246.51 350.50,243.65 350.97,240.81 351.44,238.00 351.90,235.24 352.37,232.55 352.84,229.95 353.31,227.44 353.78,225.04 354.24,222.77 354.71,220.64 355.18,218.66 355.65,216.84 356.12,215.20 356.58,213.74 357.05,212.46 357.52,211.38 357.99,210.50 358.46,209.82 358.92,209.34 359.39,209.07 359.86,209.00 360.33,209.13 360.80,209.46 361.26,209.98 361.73,210.69 362.20,211.58 362.67,212.64 363.14,213.86 363.60,215.24 364.07,216.76 364.54,218.42 365.01,220.19 365.48,222.08 365.94,224.07 366.41,226.15 366.88,228.31 367.35,230.53 367.82,232.80 368.28,235.12 368.75,237.48 369.22,239.85 369.69,242.24 370.16,244.63 370.62,247.02 371.09,249.39 371.56,251.74 372.03,254.06 372.50,256.34 372.96,258.59 373.43,260.79 373.90,262.93 374.37,265.02 374.84,267.05 375.30,269.02 375.77,270.92 376.24,272.76 376.71,274.53 377.18,276.22 377.64,277.85 378.11,279.41 378.58,280.89 379.05,282.31 379.52,283.66 379.98,284.94 380.45,286.15 380.92,287.30 381.39,288.38 381.86,289.40 382.32,290.36 382.79,291.27 383.26,292.11 383.73,292.91 384.20,293.65 384.66,294.35 385.13,294.99 385.60,295.60 386.07,296.16 386.54,296.68 387.00,297.16 387.47,297.61 387.94,298.02 388.41,298.40 388.88,298.76 389.34,299.08 389.81,299.38 390.28,299.65 390.75,299.91 391.22,300.14 391.68,300.35 392.15,300.54 392.62,300.72 393.09,300.88 393.56,301.03 394.02,301.16 394.49,301.28 394.96,301.40 395.43,301.50 395.90,301.59 396.36,301.67 396.83,301.74 397.30,301.81 397.77,301.87 398.24,301.93 398.70,301.98 399.17,302.02 399.64,302.06 400.11,302.10 400.58,302.13 401.04,302.16 401.51,302.19 401.98,302.21 403.85,302.28 405.72,302.33 407.60,302.36 409.47,302.37 411.34,302.38 413.21,302.39 415.08,302.39 416.96,302.40 418.83,302.40 420.70,302.40 422.57,302.40 424.44,302.40 426.32,302.40 428.19,302.40 430.06,302.40 431.93,302.40 433.80,302.40 435.68,302.40 437.55,302.40 439.42,302.40 441.29,302.40 443.16,302.40 445.04,302.40 446.91,302.40 448.78,302.40 450.65,302.40 452.52,302.40 454.40,302.40 456.27,302.40 458.14,302.40 460.01,302.40 461.88,302.40 463.76,302.40 465.63,302.40 467.50,302.40 469.37,302.40 471.24,302.40 473.12,302.40 474.99,302.40 476.86,302.40 478.73,302.40 480.60,302.40 482.48,302.40 484.35,302.40 486.22,302.40 488.09,302.40 489.96,302.40 491.84,302.40 493.71,302.40 495.58,302.40 497.45,302.40 499.32,302.40 501.20,302.40 503.07,302.40 504.94,302.40 506.81,302.40 508.68,302.40 510.56,302.40 512.43,302.40 514.30,302.40" stroke="#1c1ca8" stroke-width="1.75"/>
<polyline points="327.10,302.40 327.57,302.39 328.04,302.35 328.50,302.29 328.97,302.21 329.44,302.10 329.91,301.97 330.38,301.82 330.84,301.65 331.31,301.46 331.78,301.25 332.25,301.02 332.72,300.76 333.18,300.49 333.65,300.20 334.12,299.88 334.59,299.54 335.06,299.16 335.52,298.76 335.99,298.32 336.46,297.85 336.93,297.32 337.40,296.75 337.86,296.12 338.33,295.43 338.80,294.68 339.27,293.84 339.74,292.93 340.20,291.92 340.67,290.83 341.14,289.63 341.61,288.33 342.08,286.91 342.54,285.39 343.01,283.75 343.48,281.98 343.95,280.10 344.42,278.10 344.88,275.99 345.35,273.76 345.82,271.42 346.29,268.98 346.76,266.44 347.22,263.81 347.69,261.11 348.16,258.34 348.63,255.51 349.10,252.65 349.56,249.75 350.03,246.85 350.50,243.94 350.97,241.06 351.44,238.21 351.90,235.41 352.37,232.68 352.84,230.03 353.31,227.47 353.78,225.03 354.24,222.72 354.71,220.55 355.18,218.53 355.65,216.68 356.12,214.99 356.58,213.50 357.05,212.19 357.52,211.07 357.99,210.16 358.46,209.46 358.92,208.95 359.39,208.66 359.86,208.57 360.33,208.68 360.80,208.99 361.26,209.50 361.73,210.20 362.20,211.08 362.67,212.13 363.14,213.35 363.60,214.72 364.07,216.24 364.54,217.90 365.01,219.68 365.48,221.57 365.94,223.56 366.41,225.65 366.88,227.81 367.35,230.04 367.82,232.33 368.28,234.66 368.75,237.02 369.22,239.41 369.69,241.81 370.16,244.22 370.62,246.62 371.09,249.00 371.56,251.37 372.03,253.70 372.50,256.00 372.96,258.26 373.43,260.48 373.90,262.64 374.37,264.74 374.84,266.78 375.30,268.77 375.77,270.68 376.24,272.53 376.71,274.31 377.18,276.02 377.64,277.66 378.11,279.23 378.58,280.73 379.05,282.15 379.52,283.51 379.98,284.80 380.45,286.02 380.92,287.18 381.39,288.27 381.86,289.30 382.32,290.27 382.79,291.18 383.26,292.03 383.73,292.83 384.20,293.58 384.66,294.28 385.13,294.93 385.60,295.54 386.07,296.11 386.54,296.63 387.00,297.12 387.47,297.57 387.94,297.99 388.41,298.37 388.88,298.73 389.34,299.05 389.81,299.35 390.28,299.63 390.75,299.89 391.22,300.12 391.68,300.33 392.15,300.53 392.62,300.71 393.09,300.87 393.56,301.02 394.02,301.15 394.49,301.28 394.96,301.39 395.43,301.49 395.90,301.58 396.36,301.66 396.83,301.74 397.30,301.81 397.77,301.87 398.24,301.92 398.70,301.97 399.17,302.02 399.64,302.06 400.11,302.10 400.58,302.13 401.04,302.16 401.51,302.19 401.98,302.21 403.85,302.28 405.72,302.33 407.60,302.36 409.47,302.37 411.34,302.38 413.21,302.39 415.08,302.39 416.96,302.40 418.83,302.40 420.70,302.40 422.57,302.40 424.44,302.40 426.32,302.40 428.19,302.40 430.06,302.40 431.93,302.40 433.80,302.40 435.68,302.40 437.55,302.40 439.42,302.40 441.29,302.40 443.16,302.40 445.04,302.40 446.91,302.40 448.78,302.40 450.65,302.40 452.52,302.40 454.40,302.40 456.27,302.40 458.14,302.40 460.01,302.40 461.88,302.40 463.76,302.40 465.63,302.40 467.50,302.40 469.37,302.40 471.24,302.40 473.12,302.40 474.99,302.40 476.86,302.40 478.73,302.40 480.60,302.40 482.48,302.40 484.35,302.40 486.22,302.40 488.09,302.40 489.96,302.40 491.84,302.40 493.71,302.40 495.58,302.40 497.45,302.40 499.32,302.40 501.20,302.40 503.07,302.40 504.94,302.40 506.81,302.40 508.68,302.40 510.56,302.40 512.43,302.40 514.30,302.40" stroke="#bc1636" stroke-width="1.75"/>
<line x1="323.4" y1="302.40" x2="327.10" y2="302.40" stroke="#222" stroke-width="1.2"/>
</g>
<rect x="323.4" y="187.9" width="194.70000000000005" height="120.49999999999997" fill="none" stroke="#444" stroke-width="1"/>
<path d="M327.10,308.4v-3.0M327.10,187.9v3.0M336.46,308.4v-1.6M336.46,187.9v1.6M345.82,308.4v-1.6M345.82,187.9v1.6M355.18,308.4v-1.6M355.18,187.9v1.6M364.54,308.4v-3.0M364.54,187.9v3.0M373.90,308.4v-1.6M373.90,187.9v1.6M383.26,308.4v-1.6M383.26,187.9v1.6M392.62,308.4v-1.6M392.62,187.9v1.6M401.98,308.4v-3.0M401.98,187.9v3.0M411.34,308.4v-1.6M411.34,187.9v1.6M420.70,308.4v-1.6M420.70,187.9v1.6M430.06,308.4v-1.6M430.06,187.9v1.6M439.42,308.4v-3.0M439.42,187.9v3.0M448.78,308.4v-1.6M448.78,187.9v1.6M458.14,308.4v-1.6M458.14,187.9v1.6M467.50,308.4v-1.6M467.50,187.9v1.6M476.86,308.4v-3.0M476.86,187.9v3.0M486.22,308.4v-1.6M486.22,187.9v1.6M495.58,308.4v-1.6M495.58,187.9v1.6M504.94,308.4v-1.6M504.94,187.9v1.6M514.30,308.4v-3.0M514.30,187.9v3.0M323.4,302.40h3.0M518.1,302.40h-3.0M323.4,295.18h1.6M518.1,295.18h-1.6M323.4,287.96h1.6M518.1,287.96h-1.6M323.4,280.74h1.6M518.1,280.74h-1.6M323.4,273.52h1.6M518.1,273.52h-1.6M323.4,266.30h3.0M518.1,266.30h-3.0M323.4,259.08h1.6M518.1,259.08h-1.6M323.4,251.86h1.6M518.1,251.86h-1.6M323.4,244.64h1.6M518.1,244.64h-1.6M323.4,237.42h1.6M518.1,237.42h-1.6M323.4,230.20h3.0M518.1,230.20h-3.0M323.4,222.98h1.6M518.1,222.98h-1.6M323.4,215.76h1.6M518.1,215.76h-1.6M323.4,208.54h1.6M518.1,208.54h-1.6M323.4,201.32h1.6M518.1,201.32h-1.6M323.4,194.10h3.0M518.1,194.10h-3.0" stroke="#444" stroke-width="0.8" fill="none"/>
<g font-family="'Liberation Sans', Arial, sans-serif" font-size="9.6" fill="#3a3a3a" stroke="#3a3a3a" stroke-width="0.2"><text x="326.30" y="317.60" text-anchor="middle">0</text><text x="363.74" y="317.60" text-anchor="middle">2</text><text x="401.18" y="317.60" text-anchor="middle">4</text><text x="438.62" y="317.60" text-anchor="middle">6</text><text x="476.06" y="317.60" text-anchor="middle">8</text><text x="513.50" y="317.60" text-anchor="middle">10</text><text x="320.80" y="305.00" text-anchor="end">0.0</text><text x="320.80" y="268.90" text-anchor="end">0.5</text><text x="320.80" y="232.80" text-anchor="end">1.0</text><text x="320.80" y="196.70" text-anchor="end">1.5</text></g>
<text x="332.0" y="184.0" font-family="'Liberation Sans', Arial, sans-serif" font-weight="bold" font-size="10" fill="#111" stroke="#111" stroke-width="0.25">(d)</text>
<text x="409.2" y="183.8" font-family="'Liberation Sans', Arial, sans-serif" font-weight="bold" font-size="10.0" fill="#111" stroke="#111" stroke-width="0.35" letter-spacing="0.2"><tspan font-style="italic">κ</tspan>=50</text>
<text x="470.6" y="198.30" font-family="'Liberation Sans', Arial, sans-serif" font-weight="bold" font-style="italic" font-size="7.9" fill="#151515" stroke="#151515" stroke-width="0.2" textLength="29.4" lengthAdjust="spacingAndGlyphs">α = 0.0</text>
<text x="470.1" y="209.83" font-family="'Liberation Sans', Arial, sans-serif" font-weight="bold" font-size="8.8" fill="#e040e0" stroke="#e040e0" stroke-width="0.3" textLength="30.5" lengthAdjust="spacingAndGlyphs"><tspan font-style="italic">α</tspan> = 0.1</text>
<text x="470.1" y="221.36" font-family="'Liberation Sans', Arial, sans-serif" font-weight="bold" font-size="8.8" fill="#703088" stroke="#703088" stroke-width="0.3" textLength="30.5" lengthAdjust="spacingAndGlyphs"><tspan font-style="italic">α</tspan> = 0.2</text>
<text x="470.1" y="232.89" font-family="'Liberation Sans', Arial, sans-serif" font-weight="bold" font-size="8.8" fill="#e8964a" stroke="#e8964a" stroke-width="0.3" textLength="30.5" lengthAdjust="spacingAndGlyphs"><tspan font-style="italic">α</tspan> = 0.4</text>
<text x="470.1" y="244.42" font-family="'Liberation Sans', Arial, sans-serif" font-weight="bold" font-size="8.8" fill="#5ae2e2" stroke="#5ae2e2" stroke-width="0.3" textLength="30.5" lengthAdjust="spacingAndGlyphs"><tspan font-style="italic">α</tspan> = 0.6</text>
<text x="470.1" y="255.95" font-family="'Liberation Sans', Arial, sans-serif" font-weight="bold" font-size="8.8" fill="#2424aa" stroke="#2424aa" stroke-width="0.3" textLength="30.5" lengthAdjust="spacingAndGlyphs"><tspan font-style="italic">α</tspan> = 0.8</text>
<text x="470.1" y="267.48" font-family="'Liberation Sans', Arial, sans-serif" font-weight="bold" font-size="8.8" fill="#d03434" stroke="#d03434" stroke-width="0.3" textLength="30.5" lengthAdjust="spacingAndGlyphs"><tspan font-style="italic">α</tspan> = 0.9</text>
<text x="408.6" y="334.4" font-family="'Liberation Sans', Arial, sans-serif" font-weight="bold" font-size="11.5" fill="#111" stroke="#111" stroke-width="0.2">v/<tspan font-style="italic">θ</tspan><tspan font-size="8" dy="2.6">th</tspan></text>
<g transform="translate(298.7,279.5) rotate(-90)"><text x="0" y="0" font-family="'Liberation Sans', Arial, sans-serif" font-weight="bold" font-size="11.75" fill="#111" stroke="#111" stroke-width="0.2"><tspan font-style="italic">π</tspan> v<tspan font-size="8.2" dy="2.0">th</tspan><tspan dy="-2.0">g(v/</tspan><tspan font-style="italic">θ</tspan><tspan font-size="8.2" dy="2.0">th</tspan><tspan dy="-2.0">)/</tspan><tspan font-style="italic">n</tspan><tspan font-size="8.6" dy="1.6">0</tspan></text></g>
<g transform="translate(301.6,288.7) rotate(-90) scale(0.65,1.08)"><text x="-5.6000000000000005" y="0" font-family="'Liberation Sans', Arial, sans-serif" font-size="20" fill="#000" stroke="#000" stroke-width="1.1">√</text></g>
<line x1="284.5" y1="270.6" x2="284.5" y2="284.9" stroke="#000" stroke-width="1.5"/>
</g></svg>
</body></html>
